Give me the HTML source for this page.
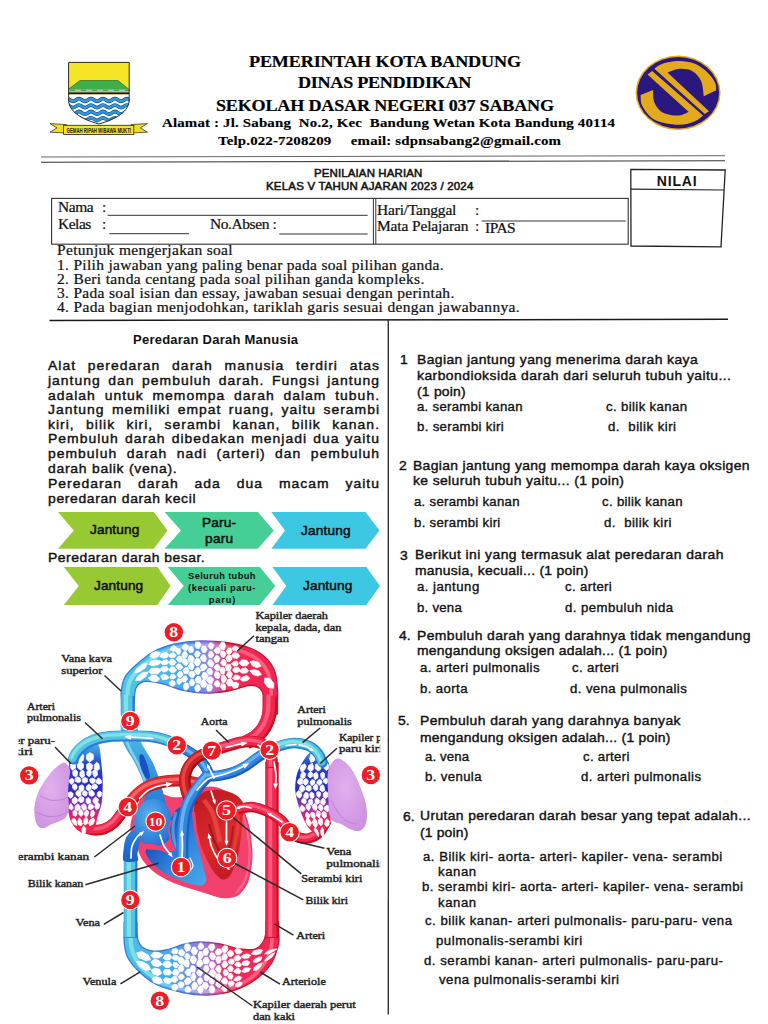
<!DOCTYPE html>
<html><head><meta charset="utf-8"><title>Penilaian Harian</title>
<style>
html,body{margin:0;padding:0;background:#fff;}
body{width:768px;height:1024px;position:relative;overflow:hidden;font-family:'Liberation Sans',sans-serif;}
.t{position:absolute;white-space:pre;line-height:normal;transform-origin:0 0;}
svg{position:absolute;left:0;top:0;}
.h16{font-family:'Liberation Serif',serif;font-size:16px;font-weight:700;color:#000;-webkit-text-stroke:0.2px #000;}.h13{font-family:'Liberation Serif',serif;font-size:13.3px;font-weight:700;color:#000;-webkit-text-stroke:0.15px #000;}.ttl{font-family:'Liberation Sans',serif;font-size:10.6px;font-weight:400;color:#111;-webkit-text-stroke:0.5px #111;}.nil{font-family:'Liberation Sans',serif;font-size:14px;font-weight:700;color:#111;}.ser{font-family:'Liberation Serif',serif;font-size:13.7px;font-weight:400;color:#111;-webkit-text-stroke:0.22px #111;}.h2{font-family:'Liberation Sans',serif;font-size:12.5px;font-weight:700;color:#111;}.body{font-family:'Liberation Sans',serif;font-size:13px;font-weight:400;color:#111;-webkit-text-stroke:0.4px #111;}.q{font-family:'Liberation Sans',serif;font-size:13px;font-weight:400;color:#111;-webkit-text-stroke:0.4px #111;}.opt{font-family:'Liberation Sans',serif;font-size:12.3px;font-weight:400;color:#111;-webkit-text-stroke:0.35px #111;}.chv{font-family:'Liberation Sans',serif;font-size:13px;font-weight:400;color:#111;-webkit-text-stroke:0.5px #111;}.chs{font-family:'Liberation Sans',serif;font-size:9.3px;font-weight:700;color:#111;}
</style></head><body>
<svg width="768" height="1024" viewBox="0 0 768 1024">
<!-- header rules -->
<g stroke="#333" fill="none" stroke-linecap="butt">
<line x1="41" y1="157" x2="725" y2="155.7" stroke-width="0.9" stroke="#555"/>
<line x1="41" y1="162.2" x2="725" y2="160.7" stroke-width="1.1"/>
<!-- info table -->
<rect x="51.6" y="198.4" width="576.6" height="45.8" stroke-width="1.1"/>
<line x1="373.4" y1="198.4" x2="373.4" y2="244.2" stroke-width="1"/>
<line x1="375.8" y1="198.4" x2="375.8" y2="244.2" stroke-width="1"/>
<line x1="107.7" y1="215.3" x2="367.7" y2="215.3" stroke-width="1"/>
<line x1="109.3" y1="233.7" x2="189" y2="233.7" stroke-width="1"/>
<line x1="279.3" y1="234" x2="367.7" y2="234" stroke-width="1"/>
<line x1="481.7" y1="221" x2="625.7" y2="221" stroke-width="1"/>
<!-- NILAI box -->
<path d="M630.8 169.4 L725.2 170 L721 246.8 L631 246 Z" stroke-width="1.3" stroke="#222"/>
<path d="M631 189.2 L724 190" stroke-width="1.2" stroke="#222"/>
<!-- section rules -->
<line x1="49.5" y1="320.4" x2="728" y2="319.3" stroke-width="1.5" stroke="#1a1a1a"/>
<line x1="388.3" y1="320" x2="388.3" y2="1014.5" stroke-width="1.4" stroke="#333"/>
</g>

<!-- left logo: Bandung coat of arms -->
<g>
<defs><clipPath id="sh"><path d="M68.6 62.4 H129.2 V100 C129.2 111 117 119 98.8 124 C80.5 119 68.6 111 68.6 100 Z"/></clipPath></defs>
<path d="M68.6 62.4 H129.2 V100 C129.2 111 117 119 98.8 124 C80.5 119 68.6 111 68.6 100 Z" fill="#f5e526"/>
<g clip-path="url(#sh)">
<path d="M66 91 L80 80.5 H118 L131 91 Z" fill="#3fae49" stroke="#1f5a2a" stroke-width="0.6"/>
<rect x="66" y="89.4" width="66" height="3.2" fill="#b8b8b8"/>
<path d="M70 89.4 h5 v1.7 h-5z M81 89.4 h5 v1.7 h-5z M92 89.4 h5 v1.7 h-5z M103 89.4 h5 v1.7 h-5z M114 89.4 h5 v1.7 h-5z M125 89.4 h5 v1.7 h-5z" fill="#3fae49"/>
<rect x="66" y="92.4" width="66" height="2.1" fill="#1a1a1a"/>
<rect x="66" y="94.5" width="66" height="32" fill="#fff"/>
<g fill="none" stroke="#1e3f66" stroke-width="3.7"><path d="M64 100 q3 -2.6 6 0 t6 0 t6 0 t6 0 t6 0 t6 0 t6 0 t6 0 t6 0 t6 0 t6 0 t6 0"/><path d="M64 106.4 q3 -2.6 6 0 t6 0 t6 0 t6 0 t6 0 t6 0 t6 0 t6 0 t6 0 t6 0 t6 0 t6 0"/><path d="M64 112.8 q3 -2.6 6 0 t6 0 t6 0 t6 0 t6 0 t6 0 t6 0 t6 0 t6 0 t6 0 t6 0 t6 0"/><path d="M64 119.2 q3 -2.6 6 0 t6 0 t6 0 t6 0 t6 0 t6 0 t6 0 t6 0 t6 0 t6 0 t6 0 t6 0"/></g>
<g fill="none" stroke="#2c9be6" stroke-width="2.5"><path d="M64 100 q3 -2.6 6 0 t6 0 t6 0 t6 0 t6 0 t6 0 t6 0 t6 0 t6 0 t6 0 t6 0 t6 0"/><path d="M64 106.4 q3 -2.6 6 0 t6 0 t6 0 t6 0 t6 0 t6 0 t6 0 t6 0 t6 0 t6 0 t6 0 t6 0"/><path d="M64 112.8 q3 -2.6 6 0 t6 0 t6 0 t6 0 t6 0 t6 0 t6 0 t6 0 t6 0 t6 0 t6 0 t6 0"/><path d="M64 119.2 q3 -2.6 6 0 t6 0 t6 0 t6 0 t6 0 t6 0 t6 0 t6 0 t6 0 t6 0 t6 0 t6 0"/></g>
</g>
<path d="M68.6 62.4 H129.2 V100 C129.2 111 117 119 98.8 124 C80.5 119 68.6 111 68.6 100 Z" fill="none" stroke="#2a2a2a" stroke-width="1"/>
<!-- ribbon -->
<path d="M50 123.6 L66.5 124.6 L66.5 133 L50 132.2 L57 127.9 Z" fill="#f0de1e" stroke="#222" stroke-width="0.7"/>
<path d="M147.4 123.6 L131 124.6 L131 133 L147.4 132.2 L140.4 127.9 Z" fill="#f0de1e" stroke="#222" stroke-width="0.7"/>
<rect x="63.6" y="125.3" width="70.2" height="9.2" fill="#f5e526" stroke="#222" stroke-width="0.8"/>
<text x="98.8" y="132.8" font-family="Liberation Sans, sans-serif" font-size="6.8" font-weight="700" text-anchor="middle" textLength="64.5" lengthAdjust="spacingAndGlyphs" fill="#1a1a1a">GEMAH RIPAH WIBAWA MUKTI</text>
</g>

<!-- right logo -->
<g>
<ellipse cx="678.1" cy="92.8" rx="42.5" ry="37.2" fill="#e3ab1c"/>
<ellipse cx="678.1" cy="92.8" rx="41" ry="35.7" fill="#2a1780"/>
<path d="M654.4 68.8 C655.7 67.9 658.4 65.0 662.5 63.8 C666.6 62.5 673.3 61.0 678.8 61.0 C684.2 61.0 690.2 61.8 695.0 63.8 C699.8 65.7 704.2 69.4 707.5 72.5 C710.8 75.6 713.5 79.5 715.0 82.5 C716.5 85.5 716.0 89.0 716.2 90.2 L703.8 96.2 C703.3 93.8 703.1 85.4 701.2 81.2 C699.4 77.1 696.0 73.3 692.5 71.2 C689.0 69.2 684.2 68.5 680.0 68.8 C675.8 69.0 669.6 71.9 667.5 72.5 L709.0 111.2 L704.8 114.0Z" fill="#e3ab1c"/>
<path d="M647.5 74.4 L652.2 71.0 L703.1 115.6 C701.8 116.6 699.2 119.7 695.0 121.2 C690.8 122.8 684.8 125.0 678.1 124.8 C671.5 124.5 660.9 123.1 655.0 120.0 C649.1 116.9 644.9 110.4 642.5 106.2 C640.1 102.1 640.9 96.9 640.6 95.0 L653.1 90.0 C653.3 92.1 652.8 98.8 654.4 102.5 C655.9 106.2 658.6 110.3 662.5 112.5 C666.4 114.7 673.1 115.7 677.5 115.6 C681.9 115.5 686.9 112.5 688.8 111.9Z" fill="#e3ab1c"/>
</g>

<!-- chevrons row 1 -->
<g>
<path d="M58 512 H153.8 L167.5 530.4 L153.8 548.8 H58 L73.8 530.4 Z" fill="#97c932"/>
<path d="M164.6 512 H257.9 L273.8 530.4 L257.9 548.8 H164.6 L181 530.4 Z" fill="#45cf96"/>
<path d="M271.3 512 H365.5 L379.5 530.4 L365.5 548.8 H271.3 L285 530.4 Z" fill="#3cc8e3"/>
<!-- row 2 -->
<path d="M63.8 567 H157.5 L170.5 586 L157.5 605 H63.8 L78.8 586 Z" fill="#97c932"/>
<path d="M167.8 567 H259.8 L275.3 586 L259.8 605 H167.8 L183.8 586 Z" fill="#45cf96"/>
<path d="M272.5 567 H366.3 L380 586 L366.3 605 H272.5 L286.3 586 Z" fill="#3cc8e3"/>
</g>
</svg>

<svg width="768" height="1024" viewBox="0 0 768 1024">
<defs>
<linearGradient id="gTop" gradientUnits="userSpaceOnUse" x1="128" y1="0" x2="276" y2="0">
<stop offset="0" stop-color="#50c4e2"/><stop offset="0.3" stop-color="#4cb4e4"/><stop offset="0.45" stop-color="#4a96e6"/><stop offset="0.56" stop-color="#a27fe0"/><stop offset="0.66" stop-color="#f22a5c"/><stop offset="1" stop-color="#f22450"/></linearGradient>
<linearGradient id="gBot" gradientUnits="userSpaceOnUse" x1="124" y1="0" x2="279" y2="0">
<stop offset="0" stop-color="#4fc3e3"/><stop offset="0.32" stop-color="#4aa6e6"/><stop offset="0.52" stop-color="#9a78dc"/><stop offset="0.68" stop-color="#f22a5c"/><stop offset="1" stop-color="#f22450"/></linearGradient>
<linearGradient id="gTopE" gradientUnits="userSpaceOnUse" x1="124" y1="0" x2="279" y2="0">
<stop offset="0" stop-color="#2c7cd8"/><stop offset="0.36" stop-color="#3a78d8"/><stop offset="0.53" stop-color="#7a58c8"/><stop offset="0.66" stop-color="#c6121e"/><stop offset="1" stop-color="#c8183a"/></linearGradient>
<linearGradient id="gHi" gradientUnits="userSpaceOnUse" x1="124" y1="0" x2="279" y2="0">
<stop offset="0" stop-color="#86e4e4"/><stop offset="0.36" stop-color="#8fc8f4"/><stop offset="0.53" stop-color="#c8a8f0"/><stop offset="0.66" stop-color="#f9607c"/><stop offset="1" stop-color="#f9788c"/></linearGradient>
<linearGradient id="gLung" gradientUnits="userSpaceOnUse" x1="0" y1="742" x2="0" y2="838">
<stop offset="0" stop-color="#45b4e2"/><stop offset="0.1" stop-color="#3a8fdc"/><stop offset="0.24" stop-color="#2540c8"/><stop offset="0.5" stop-color="#2a2ec0"/><stop offset="0.68" stop-color="#a030b0"/><stop offset="0.82" stop-color="#f22450"/><stop offset="1" stop-color="#f22450"/></linearGradient>
<linearGradient id="gVcs" gradientUnits="userSpaceOnUse" x1="0" y1="724" x2="0" y2="815">
<stop offset="0" stop-color="#4fc3e3"/><stop offset="0.45" stop-color="#3a9be0"/><stop offset="1" stop-color="#2474d4"/></linearGradient>
<linearGradient id="gIvc" gradientUnits="userSpaceOnUse" x1="0" y1="825" x2="0" y2="862">
<stop offset="0" stop-color="#2f86dc"/><stop offset="1" stop-color="#1c5fc4"/></linearGradient>
<radialGradient id="gLungL" cx="0.45" cy="0.4" r="0.7"><stop offset="0" stop-color="#e2b0ee"/><stop offset="1" stop-color="#cd90e0"/></radialGradient>
<radialGradient id="gAtr" cx="0.4" cy="0.35" r="0.8"><stop offset="0" stop-color="#55b4ee"/><stop offset="1" stop-color="#1f62cc"/></radialGradient>
<linearGradient id="gRv" gradientUnits="userSpaceOnUse" x1="145" y1="840" x2="205" y2="885">
<stop offset="0" stop-color="#1a46b8"/><stop offset="0.5" stop-color="#2f86dc"/><stop offset="1" stop-color="#4aa8ea"/></linearGradient>
<linearGradient id="gLv" gradientUnits="userSpaceOnUse" x1="195" y1="800" x2="245" y2="880">
<stop offset="0" stop-color="#c01a22"/><stop offset="0.5" stop-color="#dc2a2c"/><stop offset="1" stop-color="#b81820"/></linearGradient>
</defs>
<g>
<path d="M121.4 714.0 C121.4 712.0 121.4 706.0 121.4 702.0 C121.4 698.0 120.8 694.2 121.4 690.0 C122.0 685.8 122.6 681.2 125.0 677.0 C127.4 672.8 131.3 669.2 136.0 665.0 C140.7 660.8 146.5 655.5 153.0 652.0 C159.5 648.5 167.2 645.8 175.0 644.0 C182.8 642.2 191.5 641.2 200.0 641.0 C208.5 640.8 217.7 641.3 226.0 642.5 C234.3 643.7 243.3 645.4 250.0 648.0 C256.7 650.6 261.8 654.0 266.0 658.0 C270.2 662.0 273.1 666.7 275.0 672.0 C276.9 677.3 277.1 685.0 277.5 690.0 C277.9 695.0 277.5 698.0 277.5 702.0 C277.5 706.0 277.5 712.0 277.5 714.0 L263.2 714.0 C263.2 712.0 263.3 705.7 263.2 702.0 C263.1 698.3 263.5 694.6 262.5 692.0 C261.5 689.4 259.4 687.6 257.0 686.5 C254.6 685.4 252.8 684.8 248.0 685.5 C243.2 686.2 235.3 689.8 228.0 691.0 C220.7 692.2 211.7 693.2 204.0 693.0 C196.3 692.8 189.0 691.6 182.0 690.0 C175.0 688.4 168.3 684.9 162.0 683.5 C155.7 682.1 148.3 680.8 144.0 681.5 C139.7 682.2 137.6 684.6 136.0 688.0 C134.4 691.4 134.5 697.7 134.2 702.0 C133.9 706.3 134.2 712.0 134.2 714.0Z" fill="url(#gTop)" stroke="url(#gTopE)" stroke-width="1.3" stroke-linejoin="round"/>
<path d="M270.6 704.0 C270.7 701.3 271.4 693.2 271.0 688.0 C270.6 682.8 269.9 677.5 268.0 673.0 C266.1 668.5 263.2 664.3 259.5 661.0 C255.8 657.7 251.6 655.3 246.0 653.0 C240.4 650.7 233.7 648.2 226.0 647.0 C218.3 645.8 208.3 645.3 200.0 645.5 C191.7 645.7 183.2 646.4 176.0 648.0 C168.8 649.6 160.2 653.8 157.0 655.0" fill="none" stroke="url(#gHi)" stroke-width="3.6" stroke-opacity="0.8" stroke-linecap="round"/>
<path d="M127.8 704.0 C127.8 701.8 127.1 695.2 127.6 691.0 C128.1 686.8 128.8 682.9 131.0 679.0 C133.2 675.1 136.7 671.3 141.0 667.5 C145.3 663.7 154.3 657.9 157.0 656.0" fill="none" stroke="#86e4e4" stroke-width="4.3" stroke-opacity="0.85" stroke-linecap="round"/>
</g>
<path d="M134.7 672.8 L136.6 668.7 L142.3 664.2 L147.0 663.0 L145.5 667.8 L139.2 672.0Z" fill="#fff" stroke="#fff" stroke-width="0.7" stroke-linejoin="round"/>
<path d="M135.5 680.6 L137.6 676.3 L142.7 672.4 L148.2 672.1 L145.8 676.6 L140.3 680.4Z" fill="#fff" stroke="#fff" stroke-width="0.7" stroke-linejoin="round"/>
<path d="M149.8 656.6 L151.4 653.3 L156.2 651.3 L160.5 652.8 L157.9 656.5 L153.5 658.3Z" fill="#fff" stroke="#fff" stroke-width="0.7" stroke-linejoin="round"/>
<path d="M148.8 664.5 L151.4 661.0 L157.0 660.0 L161.8 661.5 L158.9 664.5 L153.1 666.0Z" fill="#fff" stroke="#fff" stroke-width="0.7" stroke-linejoin="round"/>
<path d="M148.6 671.6 L151.3 668.3 L157.7 668.0 L161.6 670.1 L157.9 673.8 L151.8 674.2Z" fill="#fff" stroke="#fff" stroke-width="0.7" stroke-linejoin="round"/>
<path d="M148.2 677.9 L151.6 675.6 L156.3 675.4 L159.8 678.8 L156.9 681.7 L151.3 681.1Z" fill="#fff" stroke="#fff" stroke-width="0.7" stroke-linejoin="round"/>
<path d="M159.6 656.4 L161.7 653.6 L166.4 652.3 L169.0 654.4 L167.3 657.5 L163.7 658.5Z" fill="#fff" stroke="#fff" stroke-width="0.7" stroke-linejoin="round"/>
<path d="M160.8 663.1 L163.1 660.4 L166.8 659.8 L169.3 662.2 L166.8 664.5 L162.8 664.9Z" fill="#fff" stroke="#fff" stroke-width="0.7" stroke-linejoin="round"/>
<path d="M160.1 668.9 L162.4 666.9 L166.9 666.5 L168.7 669.3 L166.4 671.5 L163.1 672.1Z" fill="#fff" stroke="#fff" stroke-width="0.7" stroke-linejoin="round"/>
<path d="M160.6 676.1 L163.9 674.1 L166.7 675.2 L169.2 677.6 L166.5 679.5 L162.5 679.6Z" fill="#fff" stroke="#fff" stroke-width="0.7" stroke-linejoin="round"/>
<path d="M170.0 649.6 L171.5 646.6 L174.1 645.5 L177.2 648.0 L176.0 650.8 L173.1 651.5Z" fill="#fff" stroke="#fff" stroke-width="0.7" stroke-linejoin="round"/>
<path d="M168.5 655.9 L170.2 653.4 L173.9 652.6 L176.2 655.1 L174.8 657.3 L171.0 657.9Z" fill="#fff" stroke="#fff" stroke-width="0.7" stroke-linejoin="round"/>
<path d="M169.2 662.2 L170.7 659.5 L173.3 659.2 L176.3 662.0 L174.4 664.8 L170.6 665.3Z" fill="#fff" stroke="#fff" stroke-width="0.7" stroke-linejoin="round"/>
<path d="M168.7 670.0 L171.3 666.8 L174.0 666.9 L176.7 670.2 L173.7 672.7 L171.3 672.5Z" fill="#fff" stroke="#fff" stroke-width="0.7" stroke-linejoin="round"/>
<path d="M169.9 676.2 L171.5 674.3 L174.3 674.7 L176.2 676.9 L173.4 678.9 L170.5 678.7Z" fill="#fff" stroke="#fff" stroke-width="0.7" stroke-linejoin="round"/>
<path d="M169.1 682.5 L171.8 680.5 L174.4 681.3 L175.6 684.3 L173.2 686.2 L170.2 685.6Z" fill="#fff" stroke="#fff" stroke-width="0.7" stroke-linejoin="round"/>
<path d="M175.8 651.6 L176.8 648.6 L179.8 648.6 L181.0 651.4 L179.7 654.2 L177.6 654.5Z" fill="#fff" stroke="#fff" stroke-width="0.7" stroke-linejoin="round"/>
<path d="M176.3 658.9 L178.1 656.2 L181.0 656.1 L182.8 659.4 L181.1 662.3 L178.4 661.8Z" fill="#fff" stroke="#fff" stroke-width="0.7" stroke-linejoin="round"/>
<path d="M175.8 666.4 L177.8 663.7 L180.7 664.3 L183.0 667.5 L180.3 669.9 L178.0 669.2Z" fill="#fff" stroke="#fff" stroke-width="0.7" stroke-linejoin="round"/>
<path d="M177.0 674.0 L179.7 671.4 L181.5 671.3 L183.1 674.8 L180.6 677.7 L178.5 677.2Z" fill="#fff" stroke="#fff" stroke-width="0.7" stroke-linejoin="round"/>
<path d="M176.8 680.8 L178.3 678.6 L181.6 679.4 L181.9 681.9 L179.5 684.7 L177.4 683.6Z" fill="#fff" stroke="#fff" stroke-width="0.7" stroke-linejoin="round"/>
<path d="M181.8 647.9 L183.8 644.5 L186.1 643.8 L188.9 646.8 L186.8 650.4 L184.4 650.6Z" fill="#fff" stroke="#fff" stroke-width="0.7" stroke-linejoin="round"/>
<path d="M181.9 655.1 L183.4 652.1 L185.7 651.3 L187.8 654.7 L185.9 658.2 L183.2 658.4Z" fill="#fff" stroke="#fff" stroke-width="0.7" stroke-linejoin="round"/>
<path d="M182.0 662.2 L183.6 659.0 L186.4 659.0 L188.7 662.4 L186.4 665.4 L184.3 665.1Z" fill="#fff" stroke="#fff" stroke-width="0.7" stroke-linejoin="round"/>
<path d="M182.9 670.4 L185.1 667.5 L187.5 667.4 L189.5 670.7 L187.4 673.8 L184.2 673.5Z" fill="#fff" stroke="#fff" stroke-width="0.7" stroke-linejoin="round"/>
<path d="M181.3 678.8 L184.1 676.0 L186.2 675.8 L187.6 679.0 L185.6 681.8 L183.0 682.0Z" fill="#fff" stroke="#fff" stroke-width="0.7" stroke-linejoin="round"/>
<path d="M183.3 686.1 L185.0 682.8 L188.1 683.3 L189.1 686.9 L186.9 689.9 L184.3 689.7Z" fill="#fff" stroke="#fff" stroke-width="0.7" stroke-linejoin="round"/>
<path d="M188.0 649.9 L189.6 646.8 L192.3 646.7 L193.8 649.3 L193.1 652.3 L190.1 652.9Z" fill="#fff" stroke="#fff" stroke-width="0.7" stroke-linejoin="round"/>
<path d="M187.9 659.2 L189.0 655.5 L192.3 655.7 L194.6 659.0 L192.7 662.5 L189.8 662.4Z" fill="#fff" stroke="#fff" stroke-width="0.7" stroke-linejoin="round"/>
<path d="M187.9 666.3 L190.1 663.0 L192.8 663.1 L194.2 665.7 L192.9 669.5 L190.0 669.3Z" fill="#fff" stroke="#fff" stroke-width="0.7" stroke-linejoin="round"/>
<path d="M188.4 674.0 L191.0 671.0 L193.9 671.7 L195.3 674.4 L193.3 677.7 L190.7 677.5Z" fill="#fff" stroke="#fff" stroke-width="0.7" stroke-linejoin="round"/>
<path d="M189.4 682.2 L191.1 679.0 L193.2 679.4 L195.1 683.0 L193.3 685.7 L190.4 685.6Z" fill="#fff" stroke="#fff" stroke-width="0.7" stroke-linejoin="round"/>
<path d="M195.2 645.6 L195.7 642.0 L199.5 642.1 L201.1 644.6 L199.3 648.5 L196.4 648.4Z" fill="#fff" stroke="#fff" stroke-width="0.7" stroke-linejoin="round"/>
<path d="M194.4 654.2 L196.1 651.1 L198.4 651.1 L200.6 653.5 L198.4 657.1 L195.9 657.1Z" fill="#fff" stroke="#fff" stroke-width="0.7" stroke-linejoin="round"/>
<path d="M193.8 662.5 L196.3 658.3 L199.1 658.8 L200.8 662.1 L198.6 665.8 L196.5 666.0Z" fill="#fff" stroke="#fff" stroke-width="0.7" stroke-linejoin="round"/>
<path d="M194.3 671.0 L196.2 668.1 L198.9 667.6 L200.8 670.7 L198.8 674.4 L196.7 674.2Z" fill="#fff" stroke="#fff" stroke-width="0.7" stroke-linejoin="round"/>
<path d="M195.2 679.3 L197.3 676.4 L200.3 676.8 L201.3 679.8 L199.9 683.2 L196.4 683.1Z" fill="#fff" stroke="#fff" stroke-width="0.7" stroke-linejoin="round"/>
<path d="M194.5 687.7 L196.6 684.7 L199.2 684.9 L200.6 688.9 L198.8 691.4 L196.1 691.7Z" fill="#fff" stroke="#fff" stroke-width="0.7" stroke-linejoin="round"/>
<path d="M201.0 648.9 L202.6 646.0 L205.7 646.6 L207.3 649.5 L205.2 652.7 L202.5 652.4Z" fill="#fff" stroke="#fff" stroke-width="0.7" stroke-linejoin="round"/>
<path d="M200.1 658.1 L202.5 654.7 L204.8 654.9 L206.6 658.4 L205.2 661.8 L202.1 661.0Z" fill="#fff" stroke="#fff" stroke-width="0.7" stroke-linejoin="round"/>
<path d="M200.2 666.8 L201.9 664.2 L205.4 664.3 L207.2 667.4 L204.2 670.6 L201.7 670.9Z" fill="#fff" stroke="#fff" stroke-width="0.7" stroke-linejoin="round"/>
<path d="M201.7 676.0 L203.1 672.5 L206.2 672.7 L208.3 675.9 L206.0 679.5 L203.6 679.8Z" fill="#fff" stroke="#fff" stroke-width="0.7" stroke-linejoin="round"/>
<path d="M200.2 683.5 L202.4 679.9 L204.8 680.3 L207.1 684.1 L205.1 687.4 L201.6 687.1Z" fill="#fff" stroke="#fff" stroke-width="0.7" stroke-linejoin="round"/>
<path d="M208.2 646.1 L209.9 642.8 L212.9 643.4 L213.9 645.8 L212.3 649.1 L209.9 648.9Z" fill="#fff" stroke="#fff" stroke-width="0.7" stroke-linejoin="round"/>
<path d="M208.3 654.4 L209.9 651.2 L212.1 651.6 L213.8 655.0 L212.2 657.6 L209.1 657.7Z" fill="#fff" stroke="#fff" stroke-width="0.7" stroke-linejoin="round"/>
<path d="M207.4 663.7 L209.0 659.6 L211.5 659.9 L214.1 663.6 L212.3 667.1 L209.8 666.5Z" fill="#fff" stroke="#fff" stroke-width="0.7" stroke-linejoin="round"/>
<path d="M206.8 671.8 L208.1 668.6 L210.8 668.3 L212.8 671.6 L211.8 674.5 L208.9 674.7Z" fill="#fff" stroke="#fff" stroke-width="0.7" stroke-linejoin="round"/>
<path d="M206.4 680.3 L208.4 677.2 L211.1 676.6 L213.8 679.6 L211.7 683.7 L209.1 683.2Z" fill="#fff" stroke="#fff" stroke-width="0.7" stroke-linejoin="round"/>
<path d="M206.5 688.2 L207.6 684.4 L211.3 684.4 L212.6 687.7 L211.0 690.7 L207.8 691.3Z" fill="#fff" stroke="#fff" stroke-width="0.7" stroke-linejoin="round"/>
<path d="M213.7 650.3 L216.4 647.8 L218.8 647.3 L220.6 650.6 L219.2 653.3 L216.1 653.6Z" fill="#fff" stroke="#fff" stroke-width="0.7" stroke-linejoin="round"/>
<path d="M213.8 658.8 L216.1 655.4 L218.3 655.9 L220.1 658.6 L218.0 662.2 L215.5 662.5Z" fill="#fff" stroke="#fff" stroke-width="0.7" stroke-linejoin="round"/>
<path d="M213.8 667.6 L216.1 664.5 L218.3 664.4 L220.4 667.6 L218.9 670.8 L216.1 670.3Z" fill="#fff" stroke="#fff" stroke-width="0.7" stroke-linejoin="round"/>
<path d="M214.3 674.9 L215.4 671.6 L218.1 672.1 L220.4 674.8 L218.6 678.6 L215.9 678.1Z" fill="#fff" stroke="#fff" stroke-width="0.7" stroke-linejoin="round"/>
<path d="M213.8 684.3 L215.8 681.1 L217.9 680.5 L220.0 683.4 L219.3 686.8 L216.3 686.8Z" fill="#fff" stroke="#fff" stroke-width="0.7" stroke-linejoin="round"/>
<path d="M219.0 646.0 L221.5 642.3 L224.2 642.3 L225.6 646.1 L224.1 649.9 L220.8 649.2Z" fill="#fff" stroke="#fff" stroke-width="0.7" stroke-linejoin="round"/>
<path d="M220.4 654.2 L221.3 650.8 L224.4 651.2 L226.3 654.0 L224.0 657.5 L221.6 657.1Z" fill="#fff" stroke="#fff" stroke-width="0.7" stroke-linejoin="round"/>
<path d="M220.4 662.8 L222.8 659.3 L224.7 659.6 L226.4 662.2 L225.4 665.7 L222.5 665.6Z" fill="#fff" stroke="#fff" stroke-width="0.7" stroke-linejoin="round"/>
<path d="M220.0 671.0 L220.9 667.4 L223.8 667.2 L225.2 670.3 L224.1 674.2 L221.1 673.9Z" fill="#fff" stroke="#fff" stroke-width="0.7" stroke-linejoin="round"/>
<path d="M221.2 678.9 L221.7 675.6 L224.7 675.5 L226.7 678.9 L224.7 682.6 L222.1 682.4Z" fill="#fff" stroke="#fff" stroke-width="0.7" stroke-linejoin="round"/>
<path d="M220.4 687.1 L221.4 683.7 L224.8 684.0 L225.8 686.8 L225.2 689.7 L222.6 689.9Z" fill="#fff" stroke="#fff" stroke-width="0.7" stroke-linejoin="round"/>
<path d="M226.2 650.8 L228.4 648.0 L230.9 648.0 L232.2 651.7 L229.6 654.7 L227.6 654.1Z" fill="#fff" stroke="#fff" stroke-width="0.7" stroke-linejoin="round"/>
<path d="M225.6 658.2 L227.9 655.0 L230.7 655.3 L232.1 659.0 L230.1 661.4 L227.4 661.4Z" fill="#fff" stroke="#fff" stroke-width="0.7" stroke-linejoin="round"/>
<path d="M225.3 667.1 L227.4 664.1 L230.4 664.4 L231.3 667.6 L230.3 670.4 L226.6 670.9Z" fill="#fff" stroke="#fff" stroke-width="0.7" stroke-linejoin="round"/>
<path d="M226.5 675.2 L227.7 671.7 L230.9 671.5 L232.4 674.1 L231.1 677.8 L228.7 677.9Z" fill="#fff" stroke="#fff" stroke-width="0.7" stroke-linejoin="round"/>
<path d="M226.3 683.1 L227.7 679.4 L230.8 678.6 L233.2 681.9 L231.3 685.6 L228.4 686.2Z" fill="#fff" stroke="#fff" stroke-width="0.7" stroke-linejoin="round"/>
<path d="M232.3 647.8 L234.9 645.9 L237.9 647.1 L239.4 649.6 L236.8 651.1 L233.1 650.5Z" fill="#fff" stroke="#fff" stroke-width="0.7" stroke-linejoin="round"/>
<path d="M231.5 655.5 L233.8 652.7 L237.7 653.2 L239.7 656.0 L237.4 658.5 L233.4 658.1Z" fill="#fff" stroke="#fff" stroke-width="0.7" stroke-linejoin="round"/>
<path d="M231.2 663.7 L234.1 661.4 L236.9 661.0 L238.4 663.8 L236.9 666.0 L233.8 666.0Z" fill="#fff" stroke="#fff" stroke-width="0.7" stroke-linejoin="round"/>
<path d="M232.4 670.3 L234.1 667.6 L238.3 667.2 L240.4 670.3 L237.9 672.2 L234.8 672.7Z" fill="#fff" stroke="#fff" stroke-width="0.7" stroke-linejoin="round"/>
<path d="M232.4 678.3 L234.8 675.3 L237.3 675.0 L240.4 676.8 L238.8 679.6 L234.9 679.9Z" fill="#fff" stroke="#fff" stroke-width="0.7" stroke-linejoin="round"/>
<path d="M231.7 685.9 L232.5 682.8 L236.2 682.1 L238.9 683.9 L237.7 687.6 L233.8 688.4Z" fill="#fff" stroke="#fff" stroke-width="0.7" stroke-linejoin="round"/>
<path d="M238.9 663.1 L241.7 659.8 L246.7 660.3 L249.1 663.2 L246.7 665.8 L242.1 665.9Z" fill="#fff" stroke="#fff" stroke-width="0.7" stroke-linejoin="round"/>
<path d="M239.4 671.3 L241.7 668.8 L245.8 667.8 L248.6 670.9 L246.4 673.0 L241.9 673.2Z" fill="#fff" stroke="#fff" stroke-width="0.7" stroke-linejoin="round"/>
<path d="M240.1 679.4 L242.6 676.9 L246.8 675.6 L249.9 678.2 L247.7 680.4 L242.7 681.3Z" fill="#fff" stroke="#fff" stroke-width="0.7" stroke-linejoin="round"/>
<path d="M250.1 661.6 L253.8 660.7 L258.8 662.5 L261.0 666.3 L256.7 667.7 L252.3 665.8Z" fill="#fff" stroke="#fff" stroke-width="0.7" stroke-linejoin="round"/>
<path d="M249.8 670.7 L254.1 669.5 L259.0 671.1 L261.5 674.5 L257.9 676.1 L252.8 674.5Z" fill="#fff" stroke="#fff" stroke-width="0.7" stroke-linejoin="round"/>
<path d="M264.7 677.9 L269.5 678.3 L273.8 683.1 L273.7 688.3 L267.8 687.4 L264.4 682.7Z" fill="#fff" stroke="#fff" stroke-width="0.7" stroke-linejoin="round"/>
<path d="M127.8 724.0 C127.8 719.3 127.8 700.7 127.8 696.0" fill="none" stroke="#2c7cd8" stroke-width="13.6" stroke-linecap="butt" stroke-linejoin="round"/>
<path d="M127.8 724.0 C127.8 719.3 127.8 700.7 127.8 696.0" fill="none" stroke="#50c4e2" stroke-width="11.0" stroke-linecap="butt" stroke-linejoin="round" transform="translate(-0.9 -0.7)"/>
<path d="M127.8 724.0 C127.8 719.3 127.8 700.7 127.8 696.0" fill="none" stroke="#86e4e4" stroke-width="4.1" stroke-linecap="butt" stroke-opacity="0.9" stroke-linejoin="round" transform="translate(-1.71 -1.33)"/>
<path d="M270.3 696.0 C270.1 699.0 270.3 708.8 269.4 714.0 C268.4 719.2 266.8 723.2 264.6 727.0 C262.5 730.8 259.6 733.9 256.5 736.5 C253.4 739.1 247.8 741.5 246.0 742.5" fill="none" stroke="#c6121e" stroke-width="14.4" stroke-linecap="butt" stroke-linejoin="round"/>
<path d="M270.3 696.0 C270.1 699.0 270.3 708.8 269.4 714.0 C268.4 719.2 266.8 723.2 264.6 727.0 C262.5 730.8 259.6 733.9 256.5 736.5 C253.4 739.1 247.8 741.5 246.0 742.5" fill="none" stroke="#f22450" stroke-width="11.8" stroke-linecap="butt" stroke-linejoin="round" transform="translate(-0.9 -0.7)"/>
<path d="M270.3 696.0 C270.1 699.0 270.3 708.8 269.4 714.0 C268.4 719.2 266.8 723.2 264.6 727.0 C262.5 730.8 259.6 733.9 256.5 736.5 C253.4 739.1 247.8 741.5 246.0 742.5" fill="none" stroke="#f9607c" stroke-width="4.3" stroke-linecap="butt" stroke-opacity="0.9" stroke-linejoin="round" transform="translate(-1.71 -1.33)"/>
<path d="M124.2 922.0 C124.2 923.7 124.2 928.3 124.2 932.0 C124.2 935.7 123.8 939.7 124.4 944.0 C125.0 948.3 125.4 953.2 128.0 958.0 C130.6 962.8 135.1 968.0 140.0 972.5 C144.9 977.0 150.4 981.7 157.5 985.0 C164.6 988.3 174.2 990.8 182.5 992.5 C190.8 994.2 199.2 995.2 207.5 995.0 C215.8 994.8 224.6 993.5 232.5 991.0 C240.4 988.5 248.6 984.5 255.0 980.0 C261.4 975.5 267.1 970.0 271.0 964.0 C274.9 958.0 277.2 949.3 278.5 944.0 C279.8 938.7 278.6 935.7 278.6 932.0 C278.6 928.3 278.6 923.7 278.6 922.0 L266.0 922.0 C266.0 923.7 266.5 928.7 266.0 932.0 C265.5 935.3 264.8 939.2 263.0 942.0 C261.2 944.8 258.8 947.8 255.0 949.0 C251.2 950.2 245.8 949.8 240.0 949.0 C234.2 948.2 226.7 945.2 220.0 944.0 C213.3 942.8 205.8 942.0 200.0 942.0 C194.2 942.0 190.7 942.7 185.0 944.0 C179.3 945.3 171.5 948.8 166.0 950.0 C160.5 951.2 156.0 951.5 152.0 951.0 C148.0 950.5 144.3 948.8 142.0 947.0 C139.7 945.2 138.8 942.5 138.0 940.0 C137.2 937.5 137.2 935.0 137.0 932.0 C136.8 929.0 137.0 923.7 137.0 922.0Z" fill="url(#gBot)" stroke="url(#gTopE)" stroke-width="1.3" stroke-linejoin="round"/>
<path d="M160.0 982.5 C163.8 983.6 175.1 987.5 183.0 989.0 C190.9 990.5 199.3 991.8 207.5 991.5 C215.7 991.2 224.6 989.9 232.0 987.5 C239.4 985.1 246.6 981.1 252.0 977.0 C257.4 972.9 261.3 967.8 264.5 963.0 C267.7 958.2 269.7 953.5 271.0 948.0 C272.3 942.5 272.2 933.0 272.4 930.0" fill="none" stroke="url(#gHi)" stroke-width="3.6" stroke-opacity="0.8" stroke-linecap="round"/>
<path d="M130.6 930.0 C130.7 932.7 130.3 941.1 131.2 946.0 C132.1 950.9 133.5 955.2 136.0 959.5 C138.5 963.8 142.0 967.8 146.0 971.5 C150.0 975.2 157.7 979.8 160.0 981.5" fill="none" stroke="#86e4e4" stroke-width="4.3" stroke-opacity="0.85" stroke-linecap="round"/>
<path d="M136.6 952.9 L141.7 951.5 L148.3 955.1 L150.6 959.9 L145.3 960.4 L138.6 957.8Z" fill="#fff" stroke="#fff" stroke-width="0.7" stroke-linejoin="round"/>
<path d="M136.3 961.4 L142.0 961.5 L148.5 965.0 L150.7 969.7 L145.4 970.5 L139.1 966.3Z" fill="#fff" stroke="#fff" stroke-width="0.7" stroke-linejoin="round"/>
<path d="M150.5 955.5 L153.7 952.1 L159.2 952.6 L163.1 955.0 L159.0 957.9 L153.7 958.0Z" fill="#fff" stroke="#fff" stroke-width="0.7" stroke-linejoin="round"/>
<path d="M150.8 961.9 L154.8 959.1 L159.1 960.6 L162.1 964.4 L158.1 966.7 L153.2 965.7Z" fill="#fff" stroke="#fff" stroke-width="0.7" stroke-linejoin="round"/>
<path d="M151.2 970.1 L154.8 968.1 L159.7 969.3 L161.7 973.4 L157.8 975.7 L152.8 973.7Z" fill="#fff" stroke="#fff" stroke-width="0.7" stroke-linejoin="round"/>
<path d="M152.3 978.2 L156.3 976.5 L161.0 978.5 L162.5 982.4 L158.5 983.9 L153.4 982.2Z" fill="#fff" stroke="#fff" stroke-width="0.7" stroke-linejoin="round"/>
<path d="M163.0 958.2 L164.9 955.1 L169.4 954.1 L171.9 957.1 L169.6 960.0 L166.3 960.1Z" fill="#fff" stroke="#fff" stroke-width="0.7" stroke-linejoin="round"/>
<path d="M162.3 964.3 L164.9 961.5 L169.4 961.4 L172.0 964.7 L169.3 967.5 L165.5 967.5Z" fill="#fff" stroke="#fff" stroke-width="0.7" stroke-linejoin="round"/>
<path d="M163.1 972.0 L164.9 969.4 L169.6 969.6 L172.0 972.8 L169.5 975.1 L164.7 974.7Z" fill="#fff" stroke="#fff" stroke-width="0.7" stroke-linejoin="round"/>
<path d="M163.3 979.9 L165.6 977.4 L170.2 978.8 L172.1 981.6 L169.1 983.6 L165.4 983.0Z" fill="#fff" stroke="#fff" stroke-width="0.7" stroke-linejoin="round"/>
<path d="M171.4 952.2 L172.5 949.3 L175.9 948.4 L178.3 950.2 L177.1 953.4 L173.8 953.9Z" fill="#fff" stroke="#fff" stroke-width="0.7" stroke-linejoin="round"/>
<path d="M171.9 958.2 L173.5 955.4 L176.2 955.2 L178.9 956.7 L177.6 960.3 L174.5 960.2Z" fill="#fff" stroke="#fff" stroke-width="0.7" stroke-linejoin="round"/>
<path d="M172.8 965.6 L173.6 962.6 L176.3 962.5 L179.0 965.0 L176.7 968.0 L174.5 967.5Z" fill="#fff" stroke="#fff" stroke-width="0.7" stroke-linejoin="round"/>
<path d="M172.4 972.5 L174.4 969.3 L177.5 969.7 L179.4 972.5 L177.5 975.4 L173.6 975.0Z" fill="#fff" stroke="#fff" stroke-width="0.7" stroke-linejoin="round"/>
<path d="M170.6 978.9 L173.2 976.6 L176.5 976.6 L177.8 979.9 L175.3 982.5 L172.8 981.9Z" fill="#fff" stroke="#fff" stroke-width="0.7" stroke-linejoin="round"/>
<path d="M171.8 986.1 L174.1 984.3 L177.3 984.8 L178.4 988.1 L175.4 990.6 L172.1 989.6Z" fill="#fff" stroke="#fff" stroke-width="0.7" stroke-linejoin="round"/>
<path d="M178.4 953.5 L179.7 949.9 L182.3 949.5 L184.9 952.3 L183.5 955.7 L180.7 956.1Z" fill="#fff" stroke="#fff" stroke-width="0.7" stroke-linejoin="round"/>
<path d="M178.0 961.1 L178.9 957.7 L182.2 957.5 L184.5 960.0 L183.1 964.1 L179.9 963.8Z" fill="#fff" stroke="#fff" stroke-width="0.7" stroke-linejoin="round"/>
<path d="M178.2 968.3 L179.9 965.0 L182.4 964.7 L184.1 968.1 L182.6 971.5 L179.5 971.6Z" fill="#fff" stroke="#fff" stroke-width="0.7" stroke-linejoin="round"/>
<path d="M177.9 976.8 L180.6 974.0 L182.6 974.2 L184.5 977.0 L182.2 979.6 L179.8 979.5Z" fill="#fff" stroke="#fff" stroke-width="0.7" stroke-linejoin="round"/>
<path d="M178.1 983.7 L179.7 981.7 L183.2 982.3 L184.5 984.6 L182.2 987.6 L179.8 987.5Z" fill="#fff" stroke="#fff" stroke-width="0.7" stroke-linejoin="round"/>
<path d="M184.3 947.8 L185.2 944.1 L188.6 943.8 L190.9 946.9 L189.6 950.5 L186.2 951.4Z" fill="#fff" stroke="#fff" stroke-width="0.7" stroke-linejoin="round"/>
<path d="M184.5 956.7 L185.9 953.6 L187.7 953.3 L190.3 955.9 L189.2 958.9 L186.6 959.5Z" fill="#fff" stroke="#fff" stroke-width="0.7" stroke-linejoin="round"/>
<path d="M183.1 963.7 L185.3 959.9 L188.3 960.0 L189.4 963.4 L188.4 967.0 L185.7 966.9Z" fill="#fff" stroke="#fff" stroke-width="0.7" stroke-linejoin="round"/>
<path d="M184.8 972.2 L187.0 969.3 L189.9 969.0 L191.1 971.9 L190.1 975.8 L187.0 975.5Z" fill="#fff" stroke="#fff" stroke-width="0.7" stroke-linejoin="round"/>
<path d="M184.3 981.0 L186.9 977.7 L189.6 978.0 L191.5 981.6 L188.9 984.3 L185.9 984.5Z" fill="#fff" stroke="#fff" stroke-width="0.7" stroke-linejoin="round"/>
<path d="M184.8 989.3 L186.9 986.3 L189.2 986.7 L191.4 989.7 L189.4 992.3 L185.6 992.1Z" fill="#fff" stroke="#fff" stroke-width="0.7" stroke-linejoin="round"/>
<path d="M190.8 951.4 L192.7 947.3 L195.1 946.9 L197.8 950.8 L196.0 954.2 L193.6 955.0Z" fill="#fff" stroke="#fff" stroke-width="0.7" stroke-linejoin="round"/>
<path d="M190.0 960.0 L191.7 956.0 L194.2 955.9 L196.8 959.6 L195.1 963.4 L192.0 963.3Z" fill="#fff" stroke="#fff" stroke-width="0.7" stroke-linejoin="round"/>
<path d="M190.1 969.1 L191.2 965.8 L194.1 965.7 L195.5 968.4 L194.9 972.2 L191.6 972.0Z" fill="#fff" stroke="#fff" stroke-width="0.7" stroke-linejoin="round"/>
<path d="M190.6 977.2 L192.6 973.1 L194.3 973.1 L196.1 976.8 L194.2 980.8 L192.3 980.7Z" fill="#fff" stroke="#fff" stroke-width="0.7" stroke-linejoin="round"/>
<path d="M191.6 985.2 L194.0 981.9 L196.2 982.4 L198.0 986.0 L195.6 989.2 L192.7 989.4Z" fill="#fff" stroke="#fff" stroke-width="0.7" stroke-linejoin="round"/>
<path d="M197.8 946.3 L200.1 942.9 L201.7 942.9 L204.0 946.2 L202.6 949.0 L199.1 949.5Z" fill="#fff" stroke="#fff" stroke-width="0.7" stroke-linejoin="round"/>
<path d="M198.1 954.9 L199.4 951.4 L201.8 951.7 L203.4 955.2 L201.6 959.0 L198.7 959.0Z" fill="#fff" stroke="#fff" stroke-width="0.7" stroke-linejoin="round"/>
<path d="M196.6 963.5 L198.4 959.6 L200.9 959.6 L203.2 963.6 L201.0 966.5 L197.7 966.8Z" fill="#fff" stroke="#fff" stroke-width="0.7" stroke-linejoin="round"/>
<path d="M196.5 972.6 L198.9 969.0 L201.8 969.2 L202.8 972.5 L200.8 976.3 L198.3 975.6Z" fill="#fff" stroke="#fff" stroke-width="0.7" stroke-linejoin="round"/>
<path d="M197.2 980.4 L199.1 977.8 L201.4 977.8 L203.0 981.0 L200.9 984.2 L198.8 984.5Z" fill="#fff" stroke="#fff" stroke-width="0.7" stroke-linejoin="round"/>
<path d="M197.2 989.3 L199.5 985.9 L201.9 985.9 L203.6 989.4 L201.2 993.5 L199.1 992.8Z" fill="#fff" stroke="#fff" stroke-width="0.7" stroke-linejoin="round"/>
<path d="M202.7 951.3 L205.3 948.3 L207.4 948.0 L208.6 952.1 L207.1 955.3 L204.1 955.3Z" fill="#fff" stroke="#fff" stroke-width="0.7" stroke-linejoin="round"/>
<path d="M202.9 960.3 L205.3 957.2 L207.7 957.4 L209.5 960.9 L208.1 963.8 L204.4 963.9Z" fill="#fff" stroke="#fff" stroke-width="0.7" stroke-linejoin="round"/>
<path d="M203.5 968.9 L204.6 965.7 L207.8 965.6 L209.2 969.3 L207.3 972.3 L204.8 972.7Z" fill="#fff" stroke="#fff" stroke-width="0.7" stroke-linejoin="round"/>
<path d="M203.9 976.8 L205.9 974.1 L208.4 973.9 L210.1 977.4 L207.6 981.1 L205.0 980.4Z" fill="#fff" stroke="#fff" stroke-width="0.7" stroke-linejoin="round"/>
<path d="M201.8 985.8 L203.9 982.2 L207.2 982.9 L208.7 986.2 L206.3 989.4 L204.1 988.6Z" fill="#fff" stroke="#fff" stroke-width="0.7" stroke-linejoin="round"/>
<path d="M208.2 947.1 L210.2 944.2 L213.8 944.1 L214.9 947.9 L212.5 951.1 L210.5 950.6Z" fill="#fff" stroke="#fff" stroke-width="0.7" stroke-linejoin="round"/>
<path d="M209.6 956.5 L210.8 952.8 L213.6 953.0 L215.9 956.8 L214.0 960.0 L211.1 959.3Z" fill="#fff" stroke="#fff" stroke-width="0.7" stroke-linejoin="round"/>
<path d="M209.0 965.2 L210.7 961.8 L213.4 961.7 L215.7 964.6 L213.5 968.6 L211.3 968.6Z" fill="#fff" stroke="#fff" stroke-width="0.7" stroke-linejoin="round"/>
<path d="M208.8 973.7 L210.7 969.9 L213.7 969.6 L216.4 973.3 L214.0 977.0 L211.3 977.5Z" fill="#fff" stroke="#fff" stroke-width="0.7" stroke-linejoin="round"/>
<path d="M209.0 981.9 L210.3 978.1 L213.1 978.0 L214.8 980.7 L213.3 984.1 L210.8 984.3Z" fill="#fff" stroke="#fff" stroke-width="0.7" stroke-linejoin="round"/>
<path d="M208.9 989.9 L210.2 985.8 L213.0 985.6 L215.1 989.1 L213.8 992.8 L210.7 993.1Z" fill="#fff" stroke="#fff" stroke-width="0.7" stroke-linejoin="round"/>
<path d="M215.3 951.9 L217.2 948.9 L220.3 949.0 L222.3 952.1 L220.1 954.8 L216.4 955.0Z" fill="#fff" stroke="#fff" stroke-width="0.7" stroke-linejoin="round"/>
<path d="M215.7 959.4 L216.9 956.8 L220.2 956.3 L221.4 959.8 L219.9 963.2 L217.3 963.3Z" fill="#fff" stroke="#fff" stroke-width="0.7" stroke-linejoin="round"/>
<path d="M215.4 969.1 L217.4 965.7 L219.6 965.6 L221.3 969.0 L220.2 972.3 L217.7 972.4Z" fill="#fff" stroke="#fff" stroke-width="0.7" stroke-linejoin="round"/>
<path d="M215.0 977.3 L216.7 974.0 L219.5 973.6 L221.8 976.8 L219.9 980.6 L217.5 980.5Z" fill="#fff" stroke="#fff" stroke-width="0.7" stroke-linejoin="round"/>
<path d="M215.6 985.0 L216.4 982.1 L219.3 981.7 L221.9 984.6 L219.8 987.5 L217.9 987.4Z" fill="#fff" stroke="#fff" stroke-width="0.7" stroke-linejoin="round"/>
<path d="M221.6 948.8 L224.1 945.6 L227.3 946.2 L228.0 949.9 L225.4 953.0 L222.9 952.1Z" fill="#fff" stroke="#fff" stroke-width="0.7" stroke-linejoin="round"/>
<path d="M221.8 956.8 L223.6 953.5 L226.5 954.3 L227.5 957.3 L225.9 960.0 L222.4 960.1Z" fill="#fff" stroke="#fff" stroke-width="0.7" stroke-linejoin="round"/>
<path d="M221.8 964.5 L224.0 961.0 L226.2 961.0 L228.1 964.6 L225.7 967.4 L223.2 967.5Z" fill="#fff" stroke="#fff" stroke-width="0.7" stroke-linejoin="round"/>
<path d="M223.1 972.6 L224.6 969.3 L226.8 970.0 L228.7 973.0 L226.6 975.9 L224.4 975.6Z" fill="#fff" stroke="#fff" stroke-width="0.7" stroke-linejoin="round"/>
<path d="M221.3 981.0 L223.5 977.8 L225.6 977.7 L228.0 981.1 L226.6 984.3 L223.1 983.8Z" fill="#fff" stroke="#fff" stroke-width="0.7" stroke-linejoin="round"/>
<path d="M221.1 988.7 L223.2 985.9 L225.3 985.5 L227.3 987.9 L226.6 991.3 L224.0 991.5Z" fill="#fff" stroke="#fff" stroke-width="0.7" stroke-linejoin="round"/>
<path d="M227.0 953.3 L230.0 950.2 L232.6 951.2 L233.8 954.5 L231.2 956.8 L228.8 956.3Z" fill="#fff" stroke="#fff" stroke-width="0.7" stroke-linejoin="round"/>
<path d="M228.1 961.2 L230.0 959.1 L233.1 959.0 L234.5 961.8 L232.8 964.3 L229.5 963.9Z" fill="#fff" stroke="#fff" stroke-width="0.7" stroke-linejoin="round"/>
<path d="M227.5 968.3 L229.6 965.8 L231.7 966.1 L233.3 968.5 L232.4 971.2 L229.3 971.7Z" fill="#fff" stroke="#fff" stroke-width="0.7" stroke-linejoin="round"/>
<path d="M227.6 976.2 L229.3 973.5 L231.4 973.3 L233.2 976.2 L231.7 979.3 L229.2 979.0Z" fill="#fff" stroke="#fff" stroke-width="0.7" stroke-linejoin="round"/>
<path d="M228.0 984.1 L229.1 981.4 L232.1 980.7 L234.5 982.8 L232.9 985.6 L229.9 986.7Z" fill="#fff" stroke="#fff" stroke-width="0.7" stroke-linejoin="round"/>
<path d="M234.5 950.6 L236.4 948.6 L240.0 949.0 L242.3 951.7 L239.5 954.1 L236.5 953.7Z" fill="#fff" stroke="#fff" stroke-width="0.7" stroke-linejoin="round"/>
<path d="M234.0 957.9 L235.7 955.8 L239.2 955.7 L241.2 958.3 L238.9 960.4 L235.1 960.8Z" fill="#fff" stroke="#fff" stroke-width="0.7" stroke-linejoin="round"/>
<path d="M234.5 964.7 L236.4 962.2 L239.5 962.4 L241.5 964.5 L240.2 966.7 L236.7 966.8Z" fill="#fff" stroke="#fff" stroke-width="0.7" stroke-linejoin="round"/>
<path d="M233.5 971.6 L235.8 969.1 L238.4 968.3 L241.2 970.7 L239.6 973.6 L236.6 973.5Z" fill="#fff" stroke="#fff" stroke-width="0.7" stroke-linejoin="round"/>
<path d="M233.6 980.3 L235.4 977.4 L239.0 976.1 L241.9 977.5 L240.0 979.9 L236.9 981.2Z" fill="#fff" stroke="#fff" stroke-width="0.7" stroke-linejoin="round"/>
<path d="M235.4 986.3 L236.0 983.5 L240.0 981.8 L242.3 982.8 L240.7 985.9 L237.7 987.0Z" fill="#fff" stroke="#fff" stroke-width="0.7" stroke-linejoin="round"/>
<path d="M240.9 956.8 L243.5 954.7 L247.5 953.8 L250.9 955.5 L248.2 958.1 L244.3 958.6Z" fill="#fff" stroke="#fff" stroke-width="0.7" stroke-linejoin="round"/>
<path d="M241.7 964.4 L243.0 961.4 L247.3 960.5 L249.9 962.3 L248.1 965.3 L244.1 965.6Z" fill="#fff" stroke="#fff" stroke-width="0.7" stroke-linejoin="round"/>
<path d="M241.8 971.7 L244.1 968.1 L248.1 967.7 L250.6 968.4 L248.9 971.3 L244.8 972.6Z" fill="#fff" stroke="#fff" stroke-width="0.7" stroke-linejoin="round"/>
<path d="M251.3 954.1 L253.5 950.9 L259.4 949.5 L262.6 950.1 L260.7 953.6 L255.8 954.8Z" fill="#fff" stroke="#fff" stroke-width="0.7" stroke-linejoin="round"/>
<path d="M253.1 962.1 L254.4 959.3 L258.8 957.2 L261.9 957.0 L260.8 960.3 L256.8 962.6Z" fill="#fff" stroke="#fff" stroke-width="0.7" stroke-linejoin="round"/>
<path d="M253.2 970.4 L254.3 967.2 L258.3 964.0 L262.4 962.9 L260.5 967.1 L256.8 970.2Z" fill="#fff" stroke="#fff" stroke-width="0.7" stroke-linejoin="round"/>
<path d="M264.5 954.0 L267.2 951.4 L272.9 949.3 L277.2 949.1 L273.4 951.5 L268.2 953.9Z" fill="#fff" stroke="#fff" stroke-width="0.7" stroke-linejoin="round"/>
<path d="M264.7 961.1 L266.8 958.0 L271.4 954.1 L274.7 952.7 L272.7 956.4 L267.6 960.2Z" fill="#fff" stroke="#fff" stroke-width="0.7" stroke-linejoin="round"/>
<path d="M130.6 860.0 C130.6 873.0 130.6 925.0 130.6 938.0" fill="none" stroke="#2c7cd8" stroke-width="13.6" stroke-linecap="butt" stroke-linejoin="round"/>
<path d="M130.6 860.0 C130.6 873.0 130.6 925.0 130.6 938.0" fill="none" stroke="#50c4e2" stroke-width="11.0" stroke-linecap="butt" stroke-linejoin="round" transform="translate(-0.9 -0.7)"/>
<path d="M130.6 860.0 C130.6 873.0 130.6 925.0 130.6 938.0" fill="none" stroke="#86e4e4" stroke-width="4.1" stroke-linecap="butt" stroke-opacity="0.9" stroke-linejoin="round" transform="translate(-1.71 -1.33)"/>
<path d="M82.0 827.0 C83.8 827.5 89.3 829.7 93.0 830.0 C96.7 830.3 100.5 830.2 104.0 829.0 C107.5 827.8 111.0 825.7 114.0 823.0 C117.0 820.3 119.7 815.8 122.0 813.0 C124.3 810.2 127.0 807.2 128.0 806.0" fill="none" stroke="#c6121e" stroke-width="11" stroke-linecap="butt" stroke-linejoin="round"/>
<path d="M82.0 827.0 C83.8 827.5 89.3 829.7 93.0 830.0 C96.7 830.3 100.5 830.2 104.0 829.0 C107.5 827.8 111.0 825.7 114.0 823.0 C117.0 820.3 119.7 815.8 122.0 813.0 C124.3 810.2 127.0 807.2 128.0 806.0" fill="none" stroke="#f22450" stroke-width="8.4" stroke-linecap="butt" stroke-linejoin="round" transform="translate(-0.9 -0.7)"/>
<path d="M82.0 827.0 C83.8 827.5 89.3 829.7 93.0 830.0 C96.7 830.3 100.5 830.2 104.0 829.0 C107.5 827.8 111.0 825.7 114.0 823.0 C117.0 820.3 119.7 815.8 122.0 813.0 C124.3 810.2 127.0 807.2 128.0 806.0" fill="none" stroke="#f9607c" stroke-width="3.3" stroke-linecap="butt" stroke-opacity="0.9" stroke-linejoin="round" transform="translate(-1.71 -1.33)"/>
<path d="M327.0 820.0 C325.7 822.2 322.2 829.9 319.0 833.0 C315.8 836.1 311.7 837.8 308.0 838.5 C304.3 839.2 300.0 838.1 297.0 837.0 C294.0 835.9 291.2 832.8 290.0 832.0" fill="none" stroke="#c6121e" stroke-width="10.4" stroke-linecap="butt" stroke-linejoin="round"/>
<path d="M327.0 820.0 C325.7 822.2 322.2 829.9 319.0 833.0 C315.8 836.1 311.7 837.8 308.0 838.5 C304.3 839.2 300.0 838.1 297.0 837.0 C294.0 835.9 291.2 832.8 290.0 832.0" fill="none" stroke="#f22450" stroke-width="7.8" stroke-linecap="butt" stroke-linejoin="round" transform="translate(-0.9 -0.7)"/>
<path d="M327.0 820.0 C325.7 822.2 322.2 829.9 319.0 833.0 C315.8 836.1 311.7 837.8 308.0 838.5 C304.3 839.2 300.0 838.1 297.0 837.0 C294.0 835.9 291.2 832.8 290.0 832.0" fill="none" stroke="#f9607c" stroke-width="3.1" stroke-linecap="butt" stroke-opacity="0.9" stroke-linejoin="round" transform="translate(-1.71 -1.33)"/>
<path d="M76.0 749.0 C74.0 751.2 71.7 753.5 70.5 757.0 C69.3 760.5 68.8 767.0 68.3 772.0 C67.8 777.0 67.7 785.2 67.5 790.0 C67.3 794.8 66.9 799.5 67.3 804.0 C67.7 808.5 68.8 816.0 70.4 820.0 C72.0 824.0 75.2 828.5 78.0 830.5 C80.8 832.5 86.5 834.0 89.0 833.5 C91.5 833.0 93.7 829.5 95.0 827.0 C96.3 824.5 96.5 820.6 97.5 817.0 C98.5 813.4 100.9 808.2 101.7 803.0 C102.5 797.8 102.7 787.7 102.7 782.0 C102.7 776.3 102.1 770.4 101.5 765.0 C100.9 759.6 100.4 749.9 99.0 746.0 C97.6 742.1 94.2 739.6 92.0 739.0 C89.8 738.4 86.4 740.5 84.0 742.0 C81.6 743.5 78.0 746.8 76.0 749.0Z" fill="url(#gLung)"/>
<path d="M81.3 752.4 L76.9 754.3 L76.2 759.9 L79.4 762.7 L83.2 760.6 L83.9 755.9Z" fill="#fff" stroke="#fff" stroke-width="0.7" stroke-linejoin="round"/>
<path d="M90.0 752.6 L86.9 754.5 L86.3 759.1 L89.7 762.1 L93.3 759.3 L93.3 754.6Z" fill="#fff" stroke="#fff" stroke-width="0.7" stroke-linejoin="round"/>
<path d="M72.6 760.9 L70.5 763.4 L70.2 767.5 L72.3 770.3 L75.5 768.2 L75.8 763.2Z" fill="#fff" stroke="#fff" stroke-width="0.7" stroke-linejoin="round"/>
<path d="M80.3 761.6 L77.3 764.2 L77.6 767.9 L80.7 770.2 L83.4 767.8 L83.5 764.1Z" fill="#fff" stroke="#fff" stroke-width="0.7" stroke-linejoin="round"/>
<path d="M89.5 762.7 L86.5 764.6 L86.7 768.9 L89.8 771.8 L92.3 768.5 L92.6 765.0Z" fill="#fff" stroke="#fff" stroke-width="0.7" stroke-linejoin="round"/>
<path d="M96.8 762.2 L94.4 764.4 L94.2 769.1 L97.2 770.8 L99.8 768.8 L99.0 764.0Z" fill="#fff" stroke="#fff" stroke-width="0.7" stroke-linejoin="round"/>
<path d="M75.6 769.6 L72.7 771.5 L73.0 775.3 L75.5 777.1 L77.3 775.5 L77.5 771.6Z" fill="#fff" stroke="#fff" stroke-width="0.7" stroke-linejoin="round"/>
<path d="M82.5 769.8 L80.0 772.5 L79.8 775.7 L82.1 778.3 L84.4 776.2 L84.2 771.8Z" fill="#fff" stroke="#fff" stroke-width="0.7" stroke-linejoin="round"/>
<path d="M88.8 769.4 L86.9 771.8 L86.8 775.1 L89.2 776.7 L90.8 775.0 L91.5 771.7Z" fill="#fff" stroke="#fff" stroke-width="0.7" stroke-linejoin="round"/>
<path d="M94.7 769.2 L92.6 771.3 L93.1 775.0 L94.8 777.6 L97.5 774.9 L97.3 771.8Z" fill="#fff" stroke="#fff" stroke-width="0.7" stroke-linejoin="round"/>
<path d="M71.9 778.2 L69.4 780.0 L69.4 782.3 L71.4 784.6 L73.7 782.8 L73.9 779.8Z" fill="#fff" stroke="#fff" stroke-width="0.7" stroke-linejoin="round"/>
<path d="M78.1 776.8 L75.2 778.3 L75.1 781.3 L78.4 782.8 L80.8 781.5 L80.7 778.7Z" fill="#fff" stroke="#fff" stroke-width="0.7" stroke-linejoin="round"/>
<path d="M84.8 777.3 L82.3 779.3 L82.5 782.2 L84.5 783.0 L87.5 781.8 L87.3 778.6Z" fill="#fff" stroke="#fff" stroke-width="0.7" stroke-linejoin="round"/>
<path d="M92.4 778.0 L89.8 779.1 L90.0 781.8 L92.5 784.1 L94.9 782.0 L95.4 779.4Z" fill="#fff" stroke="#fff" stroke-width="0.7" stroke-linejoin="round"/>
<path d="M98.4 777.8 L96.4 780.0 L95.8 782.6 L98.9 784.2 L101.6 783.0 L101.2 780.0Z" fill="#fff" stroke="#fff" stroke-width="0.7" stroke-linejoin="round"/>
<path d="M74.9 783.8 L72.5 784.9 L72.5 788.0 L74.7 790.3 L77.0 788.8 L77.0 785.6Z" fill="#fff" stroke="#fff" stroke-width="0.7" stroke-linejoin="round"/>
<path d="M82.0 784.7 L79.1 786.2 L79.1 789.2 L81.1 792.0 L83.7 790.2 L84.0 786.6Z" fill="#fff" stroke="#fff" stroke-width="0.7" stroke-linejoin="round"/>
<path d="M88.7 784.3 L86.6 786.1 L86.1 789.2 L88.9 791.2 L90.8 789.0 L91.5 786.1Z" fill="#fff" stroke="#fff" stroke-width="0.7" stroke-linejoin="round"/>
<path d="M94.9 783.7 L92.2 785.6 L91.9 788.3 L94.5 789.5 L97.4 787.8 L97.2 785.4Z" fill="#fff" stroke="#fff" stroke-width="0.7" stroke-linejoin="round"/>
<path d="M71.1 791.7 L68.1 792.8 L68.2 796.3 L70.7 798.3 L72.9 796.3 L73.0 793.6Z" fill="#fff" stroke="#fff" stroke-width="0.7" stroke-linejoin="round"/>
<path d="M78.5 789.9 L76.1 792.0 L75.8 794.4 L78.6 796.6 L81.0 795.5 L80.8 791.9Z" fill="#fff" stroke="#fff" stroke-width="0.7" stroke-linejoin="round"/>
<path d="M84.9 790.5 L82.9 791.7 L82.4 794.5 L84.9 796.3 L86.8 795.3 L87.3 792.3Z" fill="#fff" stroke="#fff" stroke-width="0.7" stroke-linejoin="round"/>
<path d="M91.8 789.8 L88.9 792.0 L89.1 795.0 L91.7 796.5 L94.4 794.9 L94.0 792.5Z" fill="#fff" stroke="#fff" stroke-width="0.7" stroke-linejoin="round"/>
<path d="M99.8 790.9 L97.5 792.4 L97.2 795.5 L98.9 797.3 L101.1 796.2 L101.9 793.0Z" fill="#fff" stroke="#fff" stroke-width="0.7" stroke-linejoin="round"/>
<path d="M75.0 796.9 L72.2 799.3 L72.3 802.3 L74.3 804.2 L77.3 801.9 L77.3 799.0Z" fill="#fff" stroke="#fff" stroke-width="0.7" stroke-linejoin="round"/>
<path d="M81.4 796.2 L79.0 797.8 L78.4 801.0 L81.0 802.7 L83.4 801.6 L83.9 798.0Z" fill="#fff" stroke="#fff" stroke-width="0.7" stroke-linejoin="round"/>
<path d="M88.2 797.5 L86.2 799.0 L86.0 802.3 L87.7 804.1 L90.6 802.8 L90.7 799.8Z" fill="#fff" stroke="#fff" stroke-width="0.7" stroke-linejoin="round"/>
<path d="M95.6 797.0 L93.5 798.9 L92.8 802.0 L95.0 804.1 L97.5 803.0 L98.5 799.4Z" fill="#fff" stroke="#fff" stroke-width="0.7" stroke-linejoin="round"/>
<path d="M70.7 803.4 L69.0 806.2 L69.1 808.3 L71.5 810.0 L73.2 808.3 L72.6 805.9Z" fill="#fff" stroke="#fff" stroke-width="0.7" stroke-linejoin="round"/>
<path d="M77.6 803.8 L75.0 806.4 L75.2 809.4 L77.9 810.9 L80.1 809.1 L80.2 806.0Z" fill="#fff" stroke="#fff" stroke-width="0.7" stroke-linejoin="round"/>
<path d="M84.1 803.7 L81.5 805.3 L81.9 808.2 L83.7 810.6 L86.3 808.8 L86.0 805.3Z" fill="#fff" stroke="#fff" stroke-width="0.7" stroke-linejoin="round"/>
<path d="M91.0 803.7 L89.0 804.8 L87.9 808.3 L90.2 809.8 L93.1 808.3 L93.6 805.9Z" fill="#fff" stroke="#fff" stroke-width="0.7" stroke-linejoin="round"/>
<path d="M98.0 802.6 L95.4 804.3 L94.7 806.8 L96.3 809.5 L99.0 808.0 L99.8 804.9Z" fill="#fff" stroke="#fff" stroke-width="0.7" stroke-linejoin="round"/>
<path d="M74.6 810.0 L72.9 811.6 L73.1 815.2 L75.7 816.6 L77.0 814.1 L76.9 811.7Z" fill="#fff" stroke="#fff" stroke-width="0.7" stroke-linejoin="round"/>
<path d="M80.8 809.0 L79.0 811.4 L78.7 814.3 L81.2 816.5 L83.3 814.1 L82.8 811.4Z" fill="#fff" stroke="#fff" stroke-width="0.7" stroke-linejoin="round"/>
<path d="M86.6 809.6 L84.7 811.9 L84.3 814.3 L85.8 817.1 L87.9 815.6 L88.7 811.8Z" fill="#fff" stroke="#fff" stroke-width="0.7" stroke-linejoin="round"/>
<path d="M93.3 810.1 L91.2 811.1 L90.5 815.0 L91.5 817.6 L94.0 815.4 L94.6 812.6Z" fill="#fff" stroke="#fff" stroke-width="0.7" stroke-linejoin="round"/>
<path d="M72.7 818.4 L71.8 820.5 L73.5 824.1 L76.7 825.6 L76.9 822.9 L75.3 819.1Z" fill="#fff" stroke="#fff" stroke-width="0.7" stroke-linejoin="round"/>
<path d="M79.3 817.8 L77.8 820.8 L78.1 824.3 L81.0 825.9 L82.4 823.9 L81.0 819.8Z" fill="#fff" stroke="#fff" stroke-width="0.7" stroke-linejoin="round"/>
<path d="M86.4 817.2 L84.0 819.4 L83.7 823.4 L85.1 825.0 L87.4 823.5 L87.9 819.8Z" fill="#fff" stroke="#fff" stroke-width="0.7" stroke-linejoin="round"/>
<path d="M93.4 817.9 L90.4 819.6 L88.5 823.0 L89.9 825.8 L93.1 824.1 L94.6 820.5Z" fill="#fff" stroke="#fff" stroke-width="0.7" stroke-linejoin="round"/>
<path d="M83.8 825.8 L81.9 828.4 L82.1 833.6 L84.0 836.5 L85.3 832.6 L85.8 828.7Z" fill="#fff" stroke="#fff" stroke-width="0.7" stroke-linejoin="round"/>
<path d="M311.0 752.0 C308.7 753.2 306.6 755.9 304.5 759.0 C302.4 762.1 298.7 768.4 297.3 773.0 C295.9 777.6 294.9 784.8 295.2 790.0 C295.5 795.2 297.7 802.8 299.4 808.0 C301.1 813.2 304.2 821.0 306.7 825.0 C309.2 829.0 313.3 833.8 316.0 834.5 C318.7 835.2 322.8 832.0 325.0 830.0 C327.2 828.0 330.1 826.4 330.6 821.0 C331.1 815.6 328.6 802.0 328.5 794.0 C328.4 786.0 329.9 773.2 329.6 768.0 C329.3 762.8 327.9 761.5 326.5 759.0 C325.1 756.5 322.3 752.0 320.0 751.0 C317.7 750.0 313.3 750.8 311.0 752.0Z" fill="url(#gLung)"/>
<path d="M313.8 753.1 L310.8 754.3 L309.5 758.7 L310.9 762.4 L314.5 761.0 L315.8 756.6Z" fill="#fff" stroke="#fff" stroke-width="0.7" stroke-linejoin="round"/>
<path d="M321.0 753.6 L317.5 755.9 L317.5 760.9 L319.7 764.0 L322.5 761.0 L322.8 756.7Z" fill="#fff" stroke="#fff" stroke-width="0.7" stroke-linejoin="round"/>
<path d="M304.9 763.8 L301.4 765.2 L300.0 768.4 L301.3 772.1 L304.1 770.6 L306.3 766.5Z" fill="#fff" stroke="#fff" stroke-width="0.7" stroke-linejoin="round"/>
<path d="M312.4 763.2 L308.8 765.3 L307.7 768.9 L310.3 771.6 L313.2 769.7 L313.4 766.3Z" fill="#fff" stroke="#fff" stroke-width="0.7" stroke-linejoin="round"/>
<path d="M319.2 762.4 L315.6 764.4 L315.0 768.4 L318.0 771.2 L320.7 769.3 L321.4 764.9Z" fill="#fff" stroke="#fff" stroke-width="0.7" stroke-linejoin="round"/>
<path d="M326.0 762.2 L323.1 764.8 L323.7 768.0 L326.2 770.5 L328.6 768.8 L328.3 764.3Z" fill="#fff" stroke="#fff" stroke-width="0.7" stroke-linejoin="round"/>
<path d="M303.5 771.6 L301.1 773.4 L300.5 777.0 L302.6 779.0 L304.8 777.2 L305.8 774.0Z" fill="#fff" stroke="#fff" stroke-width="0.7" stroke-linejoin="round"/>
<path d="M311.0 771.6 L308.3 773.3 L308.1 776.0 L309.9 778.0 L312.6 776.3 L312.8 773.8Z" fill="#fff" stroke="#fff" stroke-width="0.7" stroke-linejoin="round"/>
<path d="M316.4 772.1 L313.6 774.1 L313.8 776.9 L315.2 779.9 L318.0 777.7 L317.9 774.5Z" fill="#fff" stroke="#fff" stroke-width="0.7" stroke-linejoin="round"/>
<path d="M322.9 772.1 L320.6 773.5 L320.9 776.9 L322.2 779.6 L324.4 777.2 L324.6 773.6Z" fill="#fff" stroke="#fff" stroke-width="0.7" stroke-linejoin="round"/>
<path d="M300.5 777.9 L298.1 779.9 L297.5 783.1 L299.8 784.8 L302.5 783.8 L302.9 779.7Z" fill="#fff" stroke="#fff" stroke-width="0.7" stroke-linejoin="round"/>
<path d="M305.7 778.2 L303.7 780.1 L303.3 783.4 L305.5 785.5 L307.8 783.5 L308.3 780.5Z" fill="#fff" stroke="#fff" stroke-width="0.7" stroke-linejoin="round"/>
<path d="M312.3 779.4 L310.4 781.2 L310.2 783.6 L311.8 785.7 L314.3 784.2 L315.1 781.1Z" fill="#fff" stroke="#fff" stroke-width="0.7" stroke-linejoin="round"/>
<path d="M319.7 779.2 L317.3 781.0 L316.6 783.3 L319.4 785.6 L321.8 783.6 L322.1 781.2Z" fill="#fff" stroke="#fff" stroke-width="0.7" stroke-linejoin="round"/>
<path d="M325.8 778.2 L323.6 779.5 L323.3 782.0 L325.8 783.9 L327.5 782.5 L327.7 779.2Z" fill="#fff" stroke="#fff" stroke-width="0.7" stroke-linejoin="round"/>
<path d="M302.3 784.8 L299.8 786.6 L299.3 789.8 L301.8 792.6 L304.8 790.0 L304.8 787.3Z" fill="#fff" stroke="#fff" stroke-width="0.7" stroke-linejoin="round"/>
<path d="M308.6 785.1 L306.2 786.7 L305.9 789.6 L308.9 791.3 L311.2 789.8 L311.0 786.3Z" fill="#fff" stroke="#fff" stroke-width="0.7" stroke-linejoin="round"/>
<path d="M316.0 783.9 L313.3 786.3 L313.2 788.6 L315.6 791.1 L317.8 789.2 L317.8 786.3Z" fill="#fff" stroke="#fff" stroke-width="0.7" stroke-linejoin="round"/>
<path d="M322.8 784.7 L320.3 786.2 L319.9 790.0 L322.3 791.8 L324.7 790.5 L324.3 787.1Z" fill="#fff" stroke="#fff" stroke-width="0.7" stroke-linejoin="round"/>
<path d="M298.4 790.6 L296.1 793.6 L297.2 796.4 L299.7 798.2 L301.7 795.9 L301.1 792.5Z" fill="#fff" stroke="#fff" stroke-width="0.7" stroke-linejoin="round"/>
<path d="M305.9 792.0 L303.8 794.7 L303.8 797.4 L307.1 799.1 L308.7 797.1 L308.1 793.3Z" fill="#fff" stroke="#fff" stroke-width="0.7" stroke-linejoin="round"/>
<path d="M311.2 791.9 L309.6 794.0 L310.6 797.8 L312.3 798.6 L314.1 797.2 L313.8 793.5Z" fill="#fff" stroke="#fff" stroke-width="0.7" stroke-linejoin="round"/>
<path d="M318.2 791.3 L316.6 792.5 L316.8 795.7 L319.1 797.5 L320.6 795.2 L320.7 792.7Z" fill="#fff" stroke="#fff" stroke-width="0.7" stroke-linejoin="round"/>
<path d="M325.7 791.3 L323.2 793.5 L323.3 796.7 L325.4 798.7 L327.8 796.7 L327.9 793.0Z" fill="#fff" stroke="#fff" stroke-width="0.7" stroke-linejoin="round"/>
<path d="M303.4 798.1 L301.6 799.8 L301.7 802.3 L304.8 804.0 L306.4 801.9 L305.6 799.4Z" fill="#fff" stroke="#fff" stroke-width="0.7" stroke-linejoin="round"/>
<path d="M310.0 799.2 L308.5 800.6 L308.8 803.9 L311.5 805.4 L312.8 802.8 L312.3 799.8Z" fill="#fff" stroke="#fff" stroke-width="0.7" stroke-linejoin="round"/>
<path d="M316.6 797.8 L314.9 799.8 L315.4 803.4 L317.6 804.3 L319.4 802.8 L319.3 799.9Z" fill="#fff" stroke="#fff" stroke-width="0.7" stroke-linejoin="round"/>
<path d="M323.0 797.9 L320.8 800.7 L320.7 803.3 L323.8 805.2 L325.4 802.8 L325.0 799.7Z" fill="#fff" stroke="#fff" stroke-width="0.7" stroke-linejoin="round"/>
<path d="M301.8 805.0 L299.8 807.9 L300.9 810.9 L303.3 811.6 L305.3 809.3 L304.1 807.0Z" fill="#fff" stroke="#fff" stroke-width="0.7" stroke-linejoin="round"/>
<path d="M307.3 803.6 L305.9 805.7 L306.7 808.7 L309.0 810.7 L310.5 807.6 L309.6 804.6Z" fill="#fff" stroke="#fff" stroke-width="0.7" stroke-linejoin="round"/>
<path d="M314.0 803.5 L312.1 806.0 L313.3 809.3 L315.7 810.7 L317.3 807.9 L316.3 804.6Z" fill="#fff" stroke="#fff" stroke-width="0.7" stroke-linejoin="round"/>
<path d="M319.9 804.2 L318.3 806.4 L319.1 809.2 L321.2 811.2 L323.1 808.6 L322.3 805.6Z" fill="#fff" stroke="#fff" stroke-width="0.7" stroke-linejoin="round"/>
<path d="M327.0 805.1 L324.4 807.1 L324.6 809.7 L327.7 812.0 L329.4 809.6 L328.9 806.2Z" fill="#fff" stroke="#fff" stroke-width="0.7" stroke-linejoin="round"/>
<path d="M306.7 812.0 L305.5 815.0 L306.1 817.3 L308.8 818.4 L310.1 816.3 L309.0 813.8Z" fill="#fff" stroke="#fff" stroke-width="0.7" stroke-linejoin="round"/>
<path d="M311.8 811.9 L310.3 814.1 L311.9 817.6 L314.4 818.9 L315.3 816.1 L314.5 813.0Z" fill="#fff" stroke="#fff" stroke-width="0.7" stroke-linejoin="round"/>
<path d="M317.2 810.5 L316.5 813.1 L316.5 816.0 L319.3 817.9 L320.3 814.7 L320.2 812.1Z" fill="#fff" stroke="#fff" stroke-width="0.7" stroke-linejoin="round"/>
<path d="M323.3 811.3 L321.7 813.7 L322.4 816.5 L324.8 818.5 L326.4 816.4 L326.0 812.5Z" fill="#fff" stroke="#fff" stroke-width="0.7" stroke-linejoin="round"/>
<path d="M307.0 817.8 L305.9 821.4 L307.4 824.5 L309.8 826.7 L311.5 823.1 L309.6 819.5Z" fill="#fff" stroke="#fff" stroke-width="0.7" stroke-linejoin="round"/>
<path d="M314.3 818.0 L312.4 821.7 L313.2 824.9 L315.7 827.9 L317.5 824.7 L316.7 820.7Z" fill="#fff" stroke="#fff" stroke-width="0.7" stroke-linejoin="round"/>
<path d="M320.4 817.8 L318.6 819.4 L318.5 823.5 L320.7 825.8 L322.6 824.2 L322.4 819.1Z" fill="#fff" stroke="#fff" stroke-width="0.7" stroke-linejoin="round"/>
<path d="M327.5 818.9 L325.5 820.1 L324.6 824.3 L326.5 826.8 L329.0 824.9 L329.3 821.7Z" fill="#fff" stroke="#fff" stroke-width="0.7" stroke-linejoin="round"/>
<path d="M314.8 827.5 L314.1 830.1 L316.7 834.3 L318.5 836.7 L318.5 833.1 L316.8 829.4Z" fill="#fff" stroke="#fff" stroke-width="0.7" stroke-linejoin="round"/>
<path d="M322.2 827.1 L320.8 830.3 L320.9 834.3 L322.4 837.0 L323.7 834.7 L323.7 830.4Z" fill="#fff" stroke="#fff" stroke-width="0.7" stroke-linejoin="round"/>
<path d="M65.0 763.0 C63.0 762.3 60.2 764.5 58.0 766.0 C55.8 767.5 53.8 769.3 51.5 772.0 C49.2 774.7 46.2 778.5 44.0 782.0 C41.8 785.5 39.6 789.0 38.0 793.0 C36.4 797.0 35.0 801.8 34.5 806.0 C34.0 810.2 34.4 814.7 35.0 818.0 C35.6 821.3 36.5 824.3 38.0 826.0 C39.5 827.7 41.7 828.3 44.0 828.0 C46.3 827.7 49.3 825.2 52.0 824.0 C54.7 822.8 57.7 822.2 60.0 821.0 C62.3 819.8 64.5 819.2 66.0 817.0 C67.5 814.8 68.7 811.8 69.0 808.0 C69.3 804.2 68.0 798.7 68.0 794.0 C68.0 789.3 68.7 784.0 69.0 780.0 C69.3 776.0 70.7 772.8 70.0 770.0 C69.3 767.2 67.0 763.7 65.0 763.0Z" fill="url(#gLungL)"/>
<path d="M40.0 796.0 C41.7 796.7 46.7 799.3 50.0 800.0 C53.3 800.7 57.0 800.5 60.0 800.0 C63.0 799.5 66.7 797.5 68.0 797.0" fill="none" stroke="#b77fcc" stroke-width="0.9"/>
<path d="M36.0 812.0 C37.7 812.7 42.3 815.3 46.0 816.0 C49.7 816.7 54.5 816.7 58.0 816.0 C61.5 815.3 65.5 812.7 67.0 812.0" fill="none" stroke="#b77fcc" stroke-width="0.9"/>
<path d="M336.0 759.0 C338.4 757.8 341.2 759.7 343.5 761.0 C345.8 762.3 347.9 764.3 350.0 767.0 C352.1 769.7 354.2 773.3 356.0 777.0 C357.8 780.7 359.4 784.8 361.0 789.0 C362.6 793.2 364.5 797.7 365.5 802.0 C366.5 806.3 367.1 811.0 367.0 815.0 C366.9 819.0 366.4 823.3 365.0 826.0 C363.6 828.7 361.0 830.5 358.5 831.0 C356.0 831.5 352.9 830.2 350.0 829.0 C347.1 827.8 343.8 825.3 341.0 824.0 C338.2 822.7 335.0 822.8 333.0 821.0 C331.0 819.2 329.8 817.2 329.0 813.0 C328.2 808.8 328.8 801.5 328.5 796.0 C328.2 790.5 327.4 784.7 327.5 780.0 C327.6 775.3 327.6 771.5 329.0 768.0 C330.4 764.5 333.6 760.2 336.0 759.0Z" fill="url(#gLungL)"/>
<path d="M331.0 800.0 C332.2 802.0 335.7 808.7 338.0 812.0 C340.3 815.3 342.0 818.0 345.0 820.0 C348.0 822.0 354.2 823.3 356.0 824.0" fill="none" stroke="#b77fcc" stroke-width="0.9"/>
<path d="M142.0 797.0 C139.8 799.5 136.7 806.0 135.0 810.0 C133.3 814.0 131.0 820.1 130.5 824.0 C130.0 827.9 130.5 832.9 131.5 836.0 C132.5 839.1 135.9 842.5 137.0 845.0 C138.1 847.5 137.9 850.5 139.0 853.0 C140.1 855.5 141.4 858.9 144.0 862.0 C146.6 865.1 151.3 870.3 156.0 873.5 C160.7 876.7 168.4 880.8 175.0 883.5 C181.6 886.2 192.9 889.3 200.0 891.5 C207.1 893.7 216.3 897.4 222.0 898.0 C227.7 898.6 234.0 898.0 238.0 895.5 C242.0 893.0 246.3 886.9 248.5 881.0 C250.7 875.1 252.3 863.6 252.5 856.0 C252.7 848.4 251.1 836.5 250.0 830.0 C248.9 823.5 246.9 817.5 245.0 813.0 C243.1 808.5 239.8 803.3 237.0 800.0 C234.2 796.7 229.8 793.0 226.0 791.0 C222.2 789.0 216.2 786.8 212.0 786.5 C207.8 786.2 201.9 787.6 198.0 789.0 C194.1 790.4 189.9 794.8 186.0 796.0 C182.1 797.2 175.9 797.5 172.0 797.0 C168.1 796.5 163.3 793.6 160.0 793.0 C156.7 792.4 152.7 792.4 150.0 793.0 C147.3 793.6 144.2 794.5 142.0 797.0Z" fill="#f2416e"/>
<path d="M243.0 815.0 C243.8 818.3 246.9 827.8 248.0 835.0 C249.1 842.2 250.0 850.5 249.5 858.0 C249.0 865.5 247.2 874.2 245.0 880.0 C242.8 885.8 237.5 890.8 236.0 893.0" fill="none" stroke="#f7708e" stroke-width="2.2" stroke-opacity="0.8"/>
<path d="M121.0 718.0 C119.5 721.2 121.1 735.9 123.0 742.0 C124.9 748.1 132.4 757.6 135.5 764.0 C138.6 770.4 145.1 784.1 146.0 790.0 C146.9 795.9 141.5 804.3 142.0 808.0 C142.5 811.7 146.9 818.0 150.0 818.0 C153.1 818.0 163.3 811.7 165.0 808.0 C166.7 804.3 164.0 795.9 162.5 790.0 C161.0 784.1 156.4 770.4 153.5 764.0 C150.6 757.6 143.5 748.1 141.0 742.0 C138.5 735.9 137.2 721.2 134.5 718.0 C131.8 714.8 122.5 714.8 121.0 718.0Z" fill="url(#gVcs)"/>
<path d="M124.5 720.0 C124.9 723.7 124.6 734.3 127.0 742.0 C129.4 749.7 135.3 757.7 139.0 766.0 C142.7 774.3 147.3 787.7 149.0 792.0" fill="none" stroke="#8fdcf0" stroke-width="2.6" stroke-opacity="0.8"/>
<path d="M139.5 756.0 C139.8 753.8 141.8 753.7 143.0 755.0 C144.2 756.3 145.8 760.3 147.0 764.0 C148.2 767.7 150.2 774.7 150.0 777.0 C149.8 779.3 147.5 779.5 146.0 778.0 C144.5 776.5 142.1 771.7 141.0 768.0 C139.9 764.3 139.2 758.2 139.5 756.0Z" fill="#1b50c4"/>
<path d="M177.0 745.6 C175.2 744.7 170.5 741.5 166.0 740.0 C161.5 738.5 156.0 737.2 150.0 736.5 C144.0 735.8 136.7 736.0 130.0 736.0 C123.3 736.0 116.0 735.8 110.0 736.5 C104.0 737.2 98.6 738.3 94.0 740.0 C89.4 741.7 85.5 744.2 82.5 746.5 C79.5 748.8 77.5 751.4 76.0 753.5 C74.5 755.6 73.9 758.1 73.5 759.0" fill="none" stroke="#2c7cd8" stroke-width="11" stroke-linecap="round" stroke-linejoin="round"/>
<path d="M177.0 745.6 C175.2 744.7 170.5 741.5 166.0 740.0 C161.5 738.5 156.0 737.2 150.0 736.5 C144.0 735.8 136.7 736.0 130.0 736.0 C123.3 736.0 116.0 735.8 110.0 736.5 C104.0 737.2 98.6 738.3 94.0 740.0 C89.4 741.7 85.5 744.2 82.5 746.5 C79.5 748.8 77.5 751.4 76.0 753.5 C74.5 755.6 73.9 758.1 73.5 759.0" fill="none" stroke="#50c4e2" stroke-width="8.4" stroke-linecap="round" stroke-linejoin="round" transform="translate(-0.9 -0.7)"/>
<path d="M177.0 745.6 C175.2 744.7 170.5 741.5 166.0 740.0 C161.5 738.5 156.0 737.2 150.0 736.5 C144.0 735.8 136.7 736.0 130.0 736.0 C123.3 736.0 116.0 735.8 110.0 736.5 C104.0 737.2 98.6 738.3 94.0 740.0 C89.4 741.7 85.5 744.2 82.5 746.5 C79.5 748.8 77.5 751.4 76.0 753.5 C74.5 755.6 73.9 758.1 73.5 759.0" fill="none" stroke="#86e4e4" stroke-width="3.3" stroke-linecap="round" stroke-opacity="0.9" stroke-linejoin="round" transform="translate(-1.71 -1.33)"/>
<path d="M270.0 750.0 C271.7 749.3 276.0 747.2 280.0 746.0 C284.0 744.8 289.2 743.0 294.0 743.0 C298.8 743.0 304.9 744.2 309.0 746.0 C313.1 747.8 316.2 751.2 318.5 754.0 C320.8 756.8 321.8 761.1 322.5 762.5" fill="none" stroke="#2c7cd8" stroke-width="10.4" stroke-linecap="round" stroke-linejoin="round"/>
<path d="M270.0 750.0 C271.7 749.3 276.0 747.2 280.0 746.0 C284.0 744.8 289.2 743.0 294.0 743.0 C298.8 743.0 304.9 744.2 309.0 746.0 C313.1 747.8 316.2 751.2 318.5 754.0 C320.8 756.8 321.8 761.1 322.5 762.5" fill="none" stroke="#50c4e2" stroke-width="7.8" stroke-linecap="round" stroke-linejoin="round" transform="translate(-0.9 -0.7)"/>
<path d="M270.0 750.0 C271.7 749.3 276.0 747.2 280.0 746.0 C284.0 744.8 289.2 743.0 294.0 743.0 C298.8 743.0 304.9 744.2 309.0 746.0 C313.1 747.8 316.2 751.2 318.5 754.0 C320.8 756.8 321.8 761.1 322.5 762.5" fill="none" stroke="#86e4e4" stroke-width="3.1" stroke-linecap="round" stroke-opacity="0.9" stroke-linejoin="round" transform="translate(-1.71 -1.33)"/>
<path d="M177.0 745.6 C178.8 746.5 184.5 748.9 188.0 751.0 C191.5 753.1 195.2 755.5 198.0 758.0 C200.8 760.5 203.2 763.3 205.0 766.0 C206.8 768.7 208.3 772.7 209.0 774.0" fill="none" stroke="#1c5fc4" stroke-width="10.6" stroke-linecap="butt" stroke-linejoin="round"/>
<path d="M177.0 745.6 C178.8 746.5 184.5 748.9 188.0 751.0 C191.5 753.1 195.2 755.5 198.0 758.0 C200.8 760.5 203.2 763.3 205.0 766.0 C206.8 768.7 208.3 772.7 209.0 774.0" fill="none" stroke="#2f86dc" stroke-width="8.0" stroke-linecap="butt" stroke-linejoin="round" transform="translate(-0.9 -0.7)"/>
<path d="M177.0 745.6 C178.8 746.5 184.5 748.9 188.0 751.0 C191.5 753.1 195.2 755.5 198.0 758.0 C200.8 760.5 203.2 763.3 205.0 766.0 C206.8 768.7 208.3 772.7 209.0 774.0" fill="none" stroke="#6fb6f0" stroke-width="3.2" stroke-linecap="butt" stroke-opacity="0.9" stroke-linejoin="round" transform="translate(-1.71 -1.33)"/>
<path d="M128.0 806.5 C129.1 804.9 131.3 800.2 134.5 797.0 C137.7 793.8 142.4 789.5 147.0 787.0 C151.6 784.5 156.5 783.1 162.0 782.0 C167.5 780.9 173.7 780.3 180.0 780.6 C186.3 780.9 196.7 783.4 200.0 784.0" fill="none" stroke="#b8161e" stroke-width="12" stroke-linecap="butt" stroke-linejoin="round"/>
<path d="M128.0 806.5 C129.1 804.9 131.3 800.2 134.5 797.0 C137.7 793.8 142.4 789.5 147.0 787.0 C151.6 784.5 156.5 783.1 162.0 782.0 C167.5 780.9 173.7 780.3 180.0 780.6 C186.3 780.9 196.7 783.4 200.0 784.0" fill="none" stroke="#e02a34" stroke-width="9.4" stroke-linecap="butt" stroke-linejoin="round" transform="translate(-0.9 -0.7)"/>
<path d="M128.0 806.5 C129.1 804.9 131.3 800.2 134.5 797.0 C137.7 793.8 142.4 789.5 147.0 787.0 C151.6 784.5 156.5 783.1 162.0 782.0 C167.5 780.9 173.7 780.3 180.0 780.6 C186.3 780.9 196.7 783.4 200.0 784.0" fill="none" stroke="#f46a66" stroke-width="3.6" stroke-linecap="butt" stroke-opacity="0.9" stroke-linejoin="round" transform="translate(-1.71 -1.33)"/>
<path d="M195.0 802.0 C196.4 797.8 200.2 793.8 204.0 792.0 C207.8 790.2 215.2 789.5 220.0 790.0 C224.8 790.5 232.4 792.8 236.0 795.0 C239.6 797.2 243.0 801.5 244.0 805.0 C245.0 808.5 242.9 813.4 242.5 818.0 C242.1 822.6 241.7 830.3 241.0 836.0 C240.3 841.7 239.6 850.1 238.0 856.0 C236.4 861.9 232.8 871.5 230.5 875.0 C228.2 878.5 225.0 880.0 222.5 879.5 C220.0 879.0 216.5 875.2 214.0 872.0 C211.5 868.8 208.3 862.8 206.0 858.0 C203.7 853.2 200.2 845.7 198.5 840.0 C196.8 834.3 195.0 825.7 194.5 820.0 C194.0 814.3 193.6 806.2 195.0 802.0Z" fill="url(#gLv)"/>
<path d="M204.0 800.0 C205.3 802.0 209.8 807.3 212.0 812.0 C214.2 816.7 215.7 823.0 217.0 828.0 C218.3 833.0 219.5 839.7 220.0 842.0" fill="none" stroke="#f0504a" stroke-width="4.5" stroke-opacity="0.7"/>
<path d="M237.0 808.0 C237.2 811.0 238.5 819.3 238.0 826.0 C237.5 832.7 235.7 841.3 234.0 848.0 C232.3 854.7 229.0 863.0 228.0 866.0" fill="none" stroke="#ea4440" stroke-width="3.6" stroke-opacity="0.7"/>
<path d="M209.0 824.0 C209.8 826.7 212.0 835.0 214.0 840.0 C216.0 845.0 219.8 851.7 221.0 854.0" fill="none" stroke="#8e1016" stroke-width="2.2" stroke-opacity="0.7"/>
<path d="M233.0 826.0 C232.7 828.7 232.2 837.0 231.0 842.0 C229.8 847.0 226.8 853.7 226.0 856.0" fill="none" stroke="#8e1016" stroke-width="1.8" stroke-opacity="0.6"/>
<path d="M272.0 762.0 C272.0 768.3 272.0 770.7 272.0 800.0 C272.0 829.3 272.0 915.0 272.0 938.0" fill="none" stroke="#c6121e" stroke-width="13.4" stroke-linecap="butt" stroke-linejoin="round"/>
<path d="M272.0 762.0 C272.0 768.3 272.0 770.7 272.0 800.0 C272.0 829.3 272.0 915.0 272.0 938.0" fill="none" stroke="#f22450" stroke-width="10.8" stroke-linecap="butt" stroke-linejoin="round" transform="translate(-0.9 -0.7)"/>
<path d="M272.0 762.0 C272.0 768.3 272.0 770.7 272.0 800.0 C272.0 829.3 272.0 915.0 272.0 938.0" fill="none" stroke="#f9607c" stroke-width="4.0" stroke-linecap="butt" stroke-opacity="0.9" stroke-linejoin="round" transform="translate(-1.71 -1.33)"/>
<path d="M212.0 751.0 C214.3 750.2 221.3 747.9 226.0 746.5 C230.7 745.1 235.7 743.3 240.0 742.5 C244.3 741.7 248.4 741.3 252.0 741.5 C255.6 741.7 258.8 742.2 261.5 743.5 C264.2 744.8 266.8 747.1 268.5 749.5 C270.2 751.9 271.0 754.9 271.6 758.0 C272.2 761.1 272.1 766.3 272.2 768.0" fill="none" stroke="#c6121e" stroke-width="11.6" stroke-linecap="butt" stroke-linejoin="round"/>
<path d="M212.0 751.0 C214.3 750.2 221.3 747.9 226.0 746.5 C230.7 745.1 235.7 743.3 240.0 742.5 C244.3 741.7 248.4 741.3 252.0 741.5 C255.6 741.7 258.8 742.2 261.5 743.5 C264.2 744.8 266.8 747.1 268.5 749.5 C270.2 751.9 271.0 754.9 271.6 758.0 C272.2 761.1 272.1 766.3 272.2 768.0" fill="none" stroke="#f22450" stroke-width="9.0" stroke-linecap="butt" stroke-linejoin="round" transform="translate(-0.9 -0.7)"/>
<path d="M212.0 751.0 C214.3 750.2 221.3 747.9 226.0 746.5 C230.7 745.1 235.7 743.3 240.0 742.5 C244.3 741.7 248.4 741.3 252.0 741.5 C255.6 741.7 258.8 742.2 261.5 743.5 C264.2 744.8 266.8 747.1 268.5 749.5 C270.2 751.9 271.0 754.9 271.6 758.0 C272.2 761.1 272.1 766.3 272.2 768.0" fill="none" stroke="#f9607c" stroke-width="3.5" stroke-linecap="butt" stroke-opacity="0.9" stroke-linejoin="round" transform="translate(-1.71 -1.33)"/>
<path d="M290.0 832.0 C288.5 830.0 285.0 823.5 281.0 820.0 C277.0 816.5 270.8 813.2 266.0 811.0 C261.2 808.8 256.7 807.3 252.0 807.0 C247.3 806.7 240.3 808.7 238.0 809.0" fill="none" stroke="#c6121e" stroke-width="10.4" stroke-linecap="butt" stroke-linejoin="round"/>
<path d="M290.0 832.0 C288.5 830.0 285.0 823.5 281.0 820.0 C277.0 816.5 270.8 813.2 266.0 811.0 C261.2 808.8 256.7 807.3 252.0 807.0 C247.3 806.7 240.3 808.7 238.0 809.0" fill="none" stroke="#f22450" stroke-width="7.8" stroke-linecap="butt" stroke-linejoin="round" transform="translate(-0.9 -0.7)"/>
<path d="M290.0 832.0 C288.5 830.0 285.0 823.5 281.0 820.0 C277.0 816.5 270.8 813.2 266.0 811.0 C261.2 808.8 256.7 807.3 252.0 807.0 C247.3 806.7 240.3 808.7 238.0 809.0" fill="none" stroke="#f9607c" stroke-width="3.1" stroke-linecap="butt" stroke-opacity="0.9" stroke-linejoin="round" transform="translate(-1.71 -1.33)"/>
<path d="M193.0 806.0 C191.9 803.7 187.8 796.7 186.5 792.0 C185.2 787.3 184.6 782.3 185.0 778.0 C185.4 773.7 186.8 769.5 189.0 766.0 C191.2 762.5 194.2 759.5 198.0 757.0 C201.8 754.5 209.7 752.0 212.0 751.0" fill="none" stroke="#9a1218" stroke-width="11.4" stroke-linecap="butt" stroke-linejoin="round"/>
<path d="M193.0 806.0 C191.9 803.7 187.8 796.7 186.5 792.0 C185.2 787.3 184.6 782.3 185.0 778.0 C185.4 773.7 186.8 769.5 189.0 766.0 C191.2 762.5 194.2 759.5 198.0 757.0 C201.8 754.5 209.7 752.0 212.0 751.0" fill="none" stroke="#cc1f26" stroke-width="8.8" stroke-linecap="butt" stroke-linejoin="round" transform="translate(-0.9 -0.7)"/>
<path d="M193.0 806.0 C191.9 803.7 187.8 796.7 186.5 792.0 C185.2 787.3 184.6 782.3 185.0 778.0 C185.4 773.7 186.8 769.5 189.0 766.0 C191.2 762.5 194.2 759.5 198.0 757.0 C201.8 754.5 209.7 752.0 212.0 751.0" fill="none" stroke="#ea4a44" stroke-width="3.4" stroke-linecap="butt" stroke-opacity="0.9" stroke-linejoin="round" transform="translate(-1.71 -1.33)"/>
<path d="M123.8 861.0 C122.0 859.3 123.5 851.1 123.8 848.0 C124.1 844.9 124.9 840.3 126.0 838.0 C127.1 835.7 130.0 831.4 132.0 831.0 C134.0 830.6 140.1 833.0 141.0 835.0 C141.9 837.0 139.5 843.5 139.0 846.0 C138.5 848.5 137.6 852.0 137.4 854.0 C137.2 856.0 139.2 860.1 137.4 861.0 C135.6 861.9 125.6 862.7 123.8 861.0Z" fill="url(#gIvc)"/>
<path d="M140.0 806.0 C141.8 803.6 144.2 801.0 147.0 800.0 C149.8 799.0 155.8 798.3 159.0 799.5 C162.2 800.7 166.0 804.6 168.0 808.0 C170.0 811.4 172.1 817.8 172.5 822.0 C172.9 826.2 172.3 832.7 171.0 836.0 C169.7 839.3 166.8 842.4 164.0 844.0 C161.2 845.6 155.4 847.5 152.0 847.0 C148.6 846.5 143.6 843.5 141.0 841.0 C138.4 838.5 135.4 833.8 134.5 830.0 C133.6 826.2 134.2 819.6 135.0 816.0 C135.8 812.4 138.2 808.4 140.0 806.0Z" fill="url(#gAtr)"/>
<path d="M184.0 806.0 C186.1 805.7 190.5 804.8 192.0 808.0 C193.5 811.2 193.8 823.6 195.0 830.0 C196.2 836.4 199.5 849.6 201.0 856.0 C202.5 862.4 206.4 874.1 206.5 878.0 C206.6 881.9 204.5 884.8 202.0 885.5 C199.5 886.2 192.3 884.3 188.0 883.0 C183.7 881.7 174.3 878.1 170.0 876.0 C165.7 873.9 159.0 869.5 156.0 867.0 C153.0 864.5 148.8 859.3 147.5 857.0 C146.2 854.7 144.9 851.0 146.0 849.5 C147.1 848.0 153.2 845.3 156.0 845.5 C158.8 845.7 164.5 850.4 167.0 851.0 C169.5 851.6 174.5 851.7 175.0 850.0 C175.5 848.3 171.1 841.7 170.5 838.0 C169.9 834.3 169.8 825.7 170.5 822.0 C171.2 818.3 174.2 812.1 176.0 810.0 C177.8 807.9 181.9 806.3 184.0 806.0Z" fill="url(#gRv)"/>
<path d="M176.0 812.0 C175.5 814.3 173.3 821.3 173.0 826.0 C172.7 830.7 173.0 835.7 174.0 840.0 C175.0 844.3 178.2 850.0 179.0 852.0" fill="none" stroke="#59b4f0" stroke-width="3" stroke-opacity="0.7"/>
<path d="M171.5 820.0 C171.1 821.7 169.2 826.7 169.0 830.0 C168.8 833.3 170.8 837.2 170.5 840.0 C170.2 842.8 167.6 845.8 167.0 847.0" fill="none" stroke="#f2416e" stroke-width="1.8"/>
<path d="M139.0 848.0 C138.8 847.1 144.8 843.7 148.0 843.5 C151.2 843.3 156.8 844.9 160.0 846.5 C163.2 848.1 169.0 853.4 169.0 854.0 C169.0 854.6 163.0 851.2 160.0 850.5 C157.0 849.8 152.2 849.9 149.0 849.5 C145.8 849.1 139.2 848.9 139.0 848.0Z" fill="#f2416e"/>
<path d="M182.5 858.0 C182.5 855.0 182.3 845.7 182.5 840.0 C182.7 834.3 182.9 829.0 183.5 824.0 C184.1 819.0 184.8 814.2 186.0 810.0 C187.2 805.8 188.3 803.0 190.5 799.0 C192.7 795.0 195.9 790.1 199.0 786.0 C202.1 781.9 207.3 776.4 209.0 774.5" fill="none" stroke="#1c5fc4" stroke-width="11.8" stroke-linecap="butt" stroke-linejoin="round"/>
<path d="M182.5 858.0 C182.5 855.0 182.3 845.7 182.5 840.0 C182.7 834.3 182.9 829.0 183.5 824.0 C184.1 819.0 184.8 814.2 186.0 810.0 C187.2 805.8 188.3 803.0 190.5 799.0 C192.7 795.0 195.9 790.1 199.0 786.0 C202.1 781.9 207.3 776.4 209.0 774.5" fill="none" stroke="#2f86dc" stroke-width="9.2" stroke-linecap="butt" stroke-linejoin="round" transform="translate(-0.9 -0.7)"/>
<path d="M182.5 858.0 C182.5 855.0 182.3 845.7 182.5 840.0 C182.7 834.3 182.9 829.0 183.5 824.0 C184.1 819.0 184.8 814.2 186.0 810.0 C187.2 805.8 188.3 803.0 190.5 799.0 C192.7 795.0 195.9 790.1 199.0 786.0 C202.1 781.9 207.3 776.4 209.0 774.5" fill="none" stroke="#6fb6f0" stroke-width="3.5" stroke-linecap="butt" stroke-opacity="0.9" stroke-linejoin="round" transform="translate(-1.71 -1.33)"/>
<path d="M207.0 776.5 C209.2 776.3 215.5 776.2 220.0 775.5 C224.5 774.8 229.7 773.6 234.0 772.0 C238.3 770.4 242.2 768.3 246.0 766.0 C249.8 763.7 253.3 760.6 257.0 758.0 C260.7 755.4 266.2 751.8 268.0 750.5" fill="none" stroke="#1c5fc4" stroke-width="10.6" stroke-linecap="butt" stroke-linejoin="round"/>
<path d="M207.0 776.5 C209.2 776.3 215.5 776.2 220.0 775.5 C224.5 774.8 229.7 773.6 234.0 772.0 C238.3 770.4 242.2 768.3 246.0 766.0 C249.8 763.7 253.3 760.6 257.0 758.0 C260.7 755.4 266.2 751.8 268.0 750.5" fill="none" stroke="#2f86dc" stroke-width="8.0" stroke-linecap="butt" stroke-linejoin="round" transform="translate(-0.9 -0.7)"/>
<path d="M207.0 776.5 C209.2 776.3 215.5 776.2 220.0 775.5 C224.5 774.8 229.7 773.6 234.0 772.0 C238.3 770.4 242.2 768.3 246.0 766.0 C249.8 763.7 253.3 760.6 257.0 758.0 C260.7 755.4 266.2 751.8 268.0 750.5" fill="none" stroke="#6fb6f0" stroke-width="3.2" stroke-linecap="butt" stroke-opacity="0.9" stroke-linejoin="round" transform="translate(-1.71 -1.33)"/>
<path d="M193.5 812.0 C193.9 815.3 194.6 824.7 196.0 832.0 C197.4 839.3 200.0 848.2 202.0 856.0 C204.0 863.8 207.0 875.2 208.0 879.0" fill="none" stroke="#f2416e" stroke-width="3"/>
<path d="M153.0 738.5 C150.8 738.3 144.2 737.8 140.0 737.5 C135.8 737.2 130.0 737.1 128.0 737.0" fill="none" stroke="#fff" stroke-width="1.7" stroke-linecap="round"/>
<path d="M124.1 736.8 L131.0 734.5 L130.8 739.8Z" fill="#fff"/>
<path d="M139.5 798.5 C140.9 797.2 144.8 792.6 148.0 790.5 C151.2 788.4 155.5 787.0 159.0 786.0 C162.5 785.0 167.3 784.5 169.0 784.2" fill="none" stroke="#fff" stroke-width="1.7" stroke-linecap="round"/>
<path d="M172.8 783.5 L166.6 787.3 L165.7 782.1Z" fill="#fff"/>
<path d="M226.0 747.5 C227.7 747.1 233.0 745.7 236.0 745.0 C239.0 744.3 242.7 743.8 244.0 743.5" fill="none" stroke="#fff" stroke-width="1.7" stroke-linecap="round"/>
<path d="M247.8 742.8 L241.7 746.6 L240.7 741.4Z" fill="#fff"/>
<path d="M258.0 745.0 C259.0 745.8 262.3 748.2 264.0 750.0 C265.7 751.8 267.3 755.0 268.0 756.0" fill="none" stroke="#fff" stroke-width="1.7" stroke-linecap="round"/>
<path d="M269.4 758.1 L265.5 755.4 L268.4 753.5Z" fill="#fff"/>
<path d="M274.0 762.0 C274.3 764.2 275.8 771.0 276.0 775.0 C276.2 779.0 275.6 784.2 275.5 786.0" fill="none" stroke="#fff" stroke-width="1.7" stroke-linecap="round"/>
<path d="M275.3 789.4 L273.3 783.4 L277.9 783.6Z" fill="#fff"/>
<path d="M197.0 790.0 C198.8 788.2 203.8 781.5 208.0 779.0 C212.2 776.5 217.3 776.5 222.0 775.0 C226.7 773.5 232.0 771.7 236.0 770.0 C240.0 768.3 244.3 765.8 246.0 765.0" fill="none" stroke="#fff" stroke-width="1.7" stroke-linecap="round"/>
<path d="M249.5 763.3 L244.6 768.6 L242.2 763.9Z" fill="#fff"/>
<path d="M214.0 778.0 C213.5 777.0 212.0 774.0 211.0 772.0 C210.0 770.0 208.5 767.0 208.0 766.0" fill="none" stroke="#fff" stroke-width="1.7" stroke-linecap="round"/>
<path d="M206.8 763.6 L210.5 767.0 L207.3 768.6Z" fill="#fff"/>
<path d="M211.0 791.0 C211.3 792.0 212.4 795.2 213.0 797.0 C213.6 798.8 214.2 801.2 214.5 802.0" fill="none" stroke="#fff" stroke-width="1.7" stroke-linecap="round"/>
<path d="M215.3 804.6 L212.2 800.6 L215.7 799.6Z" fill="#fff"/>
<path d="M251.0 808.0 C249.8 807.8 246.2 806.5 244.0 806.5 C241.8 806.5 239.0 807.8 238.0 808.0" fill="none" stroke="#fff" stroke-width="1.7" stroke-linecap="round"/>
<path d="M235.5 808.6 L239.4 805.9 L240.2 809.2Z" fill="#fff"/>
<path d="M282.0 822.0 C280.8 821.2 277.2 818.8 275.0 817.5 C272.8 816.2 270.0 814.6 269.0 814.0" fill="none" stroke="#fff" stroke-width="1.7" stroke-linecap="round"/>
<path d="M266.7 812.6 L271.6 813.4 L269.8 816.6Z" fill="#fff"/>
<path d="M226.5 822.0 C226.5 824.0 226.5 830.5 226.5 834.0 C226.5 837.5 226.5 841.5 226.5 843.0" fill="none" stroke="#fff" stroke-width="1.7" stroke-linecap="round"/>
<path d="M226.5 846.0 L224.5 840.8 L228.5 840.8Z" fill="#fff"/>
<path d="M229.0 869.0 C227.5 867.8 222.8 865.5 220.0 862.0 C217.2 858.5 213.8 852.3 212.0 848.0 C210.2 843.7 209.5 838.0 209.0 836.0" fill="none" stroke="#fff" stroke-width="1.7" stroke-linecap="round"/>
<path d="M208.3 833.1 L211.5 837.7 L207.6 838.6Z" fill="#fff"/>
<path d="M182.0 858.0 C182.1 856.0 182.5 850.2 182.5 846.0 C182.5 841.8 182.1 835.2 182.0 833.0" fill="none" stroke="#fff" stroke-width="1.7" stroke-linecap="round"/>
<path d="M181.9 829.9 L184.2 835.2 L180.0 835.4Z" fill="#fff"/>
<path d="M189.0 872.0 C189.7 871.0 192.8 868.3 193.0 866.0 C193.2 863.7 190.5 859.3 190.0 858.0" fill="none" stroke="#fff" stroke-width="1.2" stroke-linecap="round"/>
<path d="M190.0 857.9 L190.1 858.0 L190.0 858.1Z" fill="#fff"/>
<path d="M160.0 835.0 C160.7 836.8 162.2 842.7 164.0 846.0 C165.8 849.3 169.8 853.5 171.0 855.0" fill="none" stroke="#fff" stroke-width="1.7" stroke-linecap="round"/>
<path d="M172.8 857.4 L168.0 854.5 L171.2 852.0Z" fill="#fff"/>
<path d="M131.0 858.0 C131.2 856.0 131.0 849.5 132.0 846.0 C133.0 842.5 135.3 839.2 137.0 837.0 C138.7 834.8 141.2 833.7 142.0 833.0" fill="none" stroke="#fff" stroke-width="1.7" stroke-linecap="round"/>
<path d="M144.3 831.1 L141.5 836.0 L139.0 832.8Z" fill="#fff"/>
<path d="M286.0 745.5 C287.7 745.3 294.3 744.7 296.0 744.5" fill="none" stroke="#fff" stroke-width="1.3" stroke-linecap="round"/>
<path d="M296.1 744.5 L296.0 744.6 L295.9 744.5Z" fill="#fff"/>
<path d="M299.0 744.8 C300.2 745.1 303.8 745.6 306.0 746.5 C308.2 747.4 311.0 749.4 312.0 750.0" fill="none" stroke="#fff" stroke-width="1.7" stroke-linecap="round"/>
<path d="M314.3 751.4 L309.4 750.6 L311.2 747.4Z" fill="#fff"/>
<circle cx="173.8" cy="632.3" r="9.2" fill="#ee1c24"/>
<text x="173.8" y="637.2" font-family="Liberation Serif, serif" font-weight="700" font-size="14.4" fill="#fff" text-anchor="middle" textLength="8.9" lengthAdjust="spacingAndGlyphs">8</text>
<circle cx="159.8" cy="1000.8" r="9.2" fill="#ee1c24"/>
<text x="159.8" y="1005.7" font-family="Liberation Serif, serif" font-weight="700" font-size="14.4" fill="#fff" text-anchor="middle" textLength="8.9" lengthAdjust="spacingAndGlyphs">8</text>
<circle cx="29.2" cy="775.4" r="9.2" fill="#ee1c24"/>
<text x="29.2" y="780.3" font-family="Liberation Serif, serif" font-weight="700" font-size="14.4" fill="#fff" text-anchor="middle" textLength="8.9" lengthAdjust="spacingAndGlyphs">3</text>
<circle cx="370.8" cy="775" r="9.2" fill="#ee1c24"/>
<text x="370.8" y="779.9" font-family="Liberation Serif, serif" font-weight="700" font-size="14.4" fill="#fff" text-anchor="middle" textLength="8.9" lengthAdjust="spacingAndGlyphs">3</text>
<circle cx="130.3" cy="721" r="10.2" fill="#fff"/>
<circle cx="130.3" cy="721" r="9.2" fill="#ee1c24"/>
<text x="130.3" y="725.9" font-family="Liberation Serif, serif" font-weight="700" font-size="14.4" fill="#fff" text-anchor="middle" textLength="8.9" lengthAdjust="spacingAndGlyphs">9</text>
<circle cx="130.3" cy="900" r="10.2" fill="#fff"/>
<circle cx="130.3" cy="900" r="9.2" fill="#ee1c24"/>
<text x="130.3" y="904.9" font-family="Liberation Serif, serif" font-weight="700" font-size="14.4" fill="#fff" text-anchor="middle" textLength="8.9" lengthAdjust="spacingAndGlyphs">9</text>
<circle cx="176.8" cy="745.3" r="10.2" fill="#fff"/>
<circle cx="176.8" cy="745.3" r="9.2" fill="#ee1c24"/>
<text x="176.8" y="750.2" font-family="Liberation Serif, serif" font-weight="700" font-size="14.4" fill="#fff" text-anchor="middle" textLength="8.9" lengthAdjust="spacingAndGlyphs">2</text>
<circle cx="269.6" cy="749.7" r="10.2" fill="#fff"/>
<circle cx="269.6" cy="749.7" r="9.2" fill="#ee1c24"/>
<text x="269.6" y="754.6" font-family="Liberation Serif, serif" font-weight="700" font-size="14.4" fill="#fff" text-anchor="middle" textLength="8.9" lengthAdjust="spacingAndGlyphs">2</text>
<circle cx="211.8" cy="750.6" r="10.2" fill="#fff"/>
<circle cx="211.8" cy="750.6" r="9.2" fill="#ee1c24"/>
<text x="211.8" y="755.5" font-family="Liberation Serif, serif" font-weight="700" font-size="14.4" fill="#fff" text-anchor="middle" textLength="8.9" lengthAdjust="spacingAndGlyphs">7</text>
<circle cx="127.8" cy="807" r="10.2" fill="#fff"/>
<circle cx="127.8" cy="807" r="9.2" fill="#ee1c24"/>
<text x="127.8" y="811.9" font-family="Liberation Serif, serif" font-weight="700" font-size="14.4" fill="#fff" text-anchor="middle" textLength="8.9" lengthAdjust="spacingAndGlyphs">4</text>
<circle cx="289.6" cy="832.3" r="10.2" fill="#fff"/>
<circle cx="289.6" cy="832.3" r="9.2" fill="#ee1c24"/>
<text x="289.6" y="837.2" font-family="Liberation Serif, serif" font-weight="700" font-size="14.4" fill="#fff" text-anchor="middle" textLength="8.9" lengthAdjust="spacingAndGlyphs">4</text>
<circle cx="155.6" cy="821.6" r="10.2" fill="#fff"/>
<circle cx="155.6" cy="821.6" r="9.2" fill="#ee1c24"/>
<text x="155.6" y="825.7" font-family="Liberation Serif, serif" font-weight="700" font-size="12" fill="#fff" text-anchor="middle" textLength="13.8" lengthAdjust="spacingAndGlyphs">10</text>
<circle cx="181" cy="867" r="10.2" fill="#fff"/>
<circle cx="181" cy="867" r="9.2" fill="#ee1c24"/>
<text x="181" y="871.9" font-family="Liberation Serif, serif" font-weight="700" font-size="14.4" fill="#fff" text-anchor="middle" textLength="8.9" lengthAdjust="spacingAndGlyphs">1</text>
<circle cx="226.4" cy="810.5" r="10.2" fill="#fff"/>
<circle cx="226.4" cy="810.5" r="9.2" fill="#ee1c24"/>
<text x="226.4" y="815.4" font-family="Liberation Serif, serif" font-weight="700" font-size="14.4" fill="#fff" text-anchor="middle" textLength="8.9" lengthAdjust="spacingAndGlyphs">5</text>
<circle cx="227.2" cy="858" r="10.2" fill="#fff"/>
<circle cx="227.2" cy="858" r="9.2" fill="#ee1c24"/>
<text x="227.2" y="862.9" font-family="Liberation Serif, serif" font-weight="700" font-size="14.4" fill="#fff" text-anchor="middle" textLength="8.9" lengthAdjust="spacingAndGlyphs">6</text>
<text x="255.4" y="619.2" textLength="72.6" lengthAdjust="spacingAndGlyphs" font-family="Liberation Serif, serif" font-weight="400" font-size="10.6" fill="#222" stroke="#222" stroke-width="0.42">Kapiler daerah</text>
<text x="255.4" y="630.8" textLength="86.1" lengthAdjust="spacingAndGlyphs" font-family="Liberation Serif, serif" font-weight="400" font-size="10.6" fill="#222" stroke="#222" stroke-width="0.42">kepala, dada, dan</text>
<text x="255.4" y="642" textLength="33.6" lengthAdjust="spacingAndGlyphs" font-family="Liberation Serif, serif" font-weight="400" font-size="10.6" fill="#222" stroke="#222" stroke-width="0.42">tangan</text>
<line x1="254" y1="635.8" x2="237.3" y2="651" stroke="#2a2a2a" stroke-width="1.5"/>
<text x="61.3" y="662" textLength="50.7" lengthAdjust="spacingAndGlyphs" font-family="Liberation Serif, serif" font-weight="400" font-size="10.6" fill="#222" stroke="#222" stroke-width="0.42">Vana kava</text>
<text x="61.3" y="673.8" textLength="41.2" lengthAdjust="spacingAndGlyphs" font-family="Liberation Serif, serif" font-weight="400" font-size="10.6" fill="#222" stroke="#222" stroke-width="0.42">superior</text>
<line x1="104.5" y1="675.5" x2="121" y2="691" stroke="#2a2a2a" stroke-width="1.5"/>
<text x="27" y="709.5" textLength="28.0" lengthAdjust="spacingAndGlyphs" font-family="Liberation Serif, serif" font-weight="400" font-size="10.6" fill="#222" stroke="#222" stroke-width="0.42">Arteri</text>
<text x="27" y="721" textLength="54.0" lengthAdjust="spacingAndGlyphs" font-family="Liberation Serif, serif" font-weight="400" font-size="10.6" fill="#222" stroke="#222" stroke-width="0.42">pulmonalis</text>
<line x1="85" y1="722.5" x2="102.5" y2="738.8" stroke="#2a2a2a" stroke-width="1.5"/>
<text x="14.6" y="743.8" textLength="40.4" lengthAdjust="spacingAndGlyphs" font-family="Liberation Serif, serif" font-weight="400" font-size="10.6" fill="#222" stroke="#222" stroke-width="0.42">er paru-</text>
<text x="13.2" y="754.5" textLength="19.8" lengthAdjust="spacingAndGlyphs" font-family="Liberation Serif, serif" font-weight="400" font-size="10.6" fill="#222" stroke="#222" stroke-width="0.42">kiri</text>
<line x1="55" y1="747" x2="71" y2="763.8" stroke="#2a2a2a" stroke-width="1.5"/>
<text x="200.8" y="725" textLength="26.7" lengthAdjust="spacingAndGlyphs" font-family="Liberation Serif, serif" font-weight="400" font-size="10.6" fill="#222" stroke="#222" stroke-width="0.42">Aorta</text>
<line x1="216" y1="730" x2="228.8" y2="742.5" stroke="#2a2a2a" stroke-width="1.5"/>
<text x="297.3" y="713" textLength="28.5" lengthAdjust="spacingAndGlyphs" font-family="Liberation Serif, serif" font-weight="400" font-size="10.6" fill="#222" stroke="#222" stroke-width="0.42">Arteri</text>
<text x="297.3" y="725" textLength="54.6" lengthAdjust="spacingAndGlyphs" font-family="Liberation Serif, serif" font-weight="400" font-size="10.6" fill="#222" stroke="#222" stroke-width="0.42">pulmonalis</text>
<line x1="320.2" y1="728" x2="302.5" y2="742.7" stroke="#2a2a2a" stroke-width="1.5"/>
<text x="339" y="740.6" textLength="48.0" lengthAdjust="spacingAndGlyphs" font-family="Liberation Serif, serif" font-weight="400" font-size="10.6" fill="#222" stroke="#222" stroke-width="0.42">Kapiler pa</text>
<text x="339" y="752" textLength="43.5" lengthAdjust="spacingAndGlyphs" font-family="Liberation Serif, serif" font-weight="400" font-size="10.6" fill="#222" stroke="#222" stroke-width="0.42">paru kiri</text>
<line x1="336.9" y1="748.3" x2="320.2" y2="763.5" stroke="#2a2a2a" stroke-width="1.5"/>
<text x="326.3" y="854.6" textLength="25.0" lengthAdjust="spacingAndGlyphs" font-family="Liberation Serif, serif" font-weight="400" font-size="10.6" fill="#222" stroke="#222" stroke-width="0.42">Vena</text>
<text x="326.3" y="867" textLength="58.2" lengthAdjust="spacingAndGlyphs" font-family="Liberation Serif, serif" font-weight="400" font-size="10.6" fill="#222" stroke="#222" stroke-width="0.42">pulmonalis</text>
<line x1="324.4" y1="848.3" x2="297.3" y2="841.7" stroke="#2a2a2a" stroke-width="1.5"/>
<text x="301.3" y="882" textLength="61.0" lengthAdjust="spacingAndGlyphs" font-family="Liberation Serif, serif" font-weight="400" font-size="10.6" fill="#222" stroke="#222" stroke-width="0.42">Serambi kiri</text>
<line x1="301.3" y1="873.8" x2="233" y2="817.5" stroke="#2a2a2a" stroke-width="1.5"/>
<text x="305.4" y="904" textLength="42.6" lengthAdjust="spacingAndGlyphs" font-family="Liberation Serif, serif" font-weight="400" font-size="10.6" fill="#222" stroke="#222" stroke-width="0.42">Bilik kiri</text>
<line x1="303.3" y1="899.8" x2="235" y2="863.5" stroke="#2a2a2a" stroke-width="1.5"/>
<text x="296.3" y="939.4" textLength="28.9" lengthAdjust="spacingAndGlyphs" font-family="Liberation Serif, serif" font-weight="400" font-size="10.6" fill="#222" stroke="#222" stroke-width="0.42">Arteri</text>
<line x1="293.5" y1="935.2" x2="274.8" y2="924.2" stroke="#2a2a2a" stroke-width="1.5"/>
<text x="282" y="985.2" textLength="43.8" lengthAdjust="spacingAndGlyphs" font-family="Liberation Serif, serif" font-weight="400" font-size="10.6" fill="#222" stroke="#222" stroke-width="0.42">Arteriole</text>
<line x1="280" y1="984.2" x2="260.2" y2="972" stroke="#2a2a2a" stroke-width="1.5"/>
<text x="253" y="1008" textLength="102.6" lengthAdjust="spacingAndGlyphs" font-family="Liberation Serif, serif" font-weight="400" font-size="10.6" fill="#222" stroke="#222" stroke-width="0.42">Kapiler daerah perut</text>
<text x="253" y="1019.6" textLength="42.0" lengthAdjust="spacingAndGlyphs" font-family="Liberation Serif, serif" font-weight="400" font-size="10.6" fill="#222" stroke="#222" stroke-width="0.42">dan kaki</text>
<line x1="252.5" y1="1006" x2="197" y2="967" stroke="#2a2a2a" stroke-width="1.5"/>
<text x="17.6" y="859.8" textLength="71.6" lengthAdjust="spacingAndGlyphs" font-family="Liberation Serif, serif" font-weight="400" font-size="10.6" fill="#222" stroke="#222" stroke-width="0.42">erambi kanan</text>
<line x1="94.4" y1="857" x2="135" y2="826" stroke="#2a2a2a" stroke-width="1.5"/>
<text x="27.7" y="886.9" textLength="55.6" lengthAdjust="spacingAndGlyphs" font-family="Liberation Serif, serif" font-weight="400" font-size="10.6" fill="#222" stroke="#222" stroke-width="0.42">Bilik kanan</text>
<line x1="85.4" y1="884.8" x2="158.3" y2="863.3" stroke="#2a2a2a" stroke-width="1.5"/>
<text x="75.6" y="925.8" textLength="24.4" lengthAdjust="spacingAndGlyphs" font-family="Liberation Serif, serif" font-weight="400" font-size="10.6" fill="#222" stroke="#222" stroke-width="0.42">Vena</text>
<line x1="103.8" y1="924.4" x2="123.5" y2="912.5" stroke="#2a2a2a" stroke-width="1.5"/>
<text x="82.5" y="985.2" textLength="33.8" lengthAdjust="spacingAndGlyphs" font-family="Liberation Serif, serif" font-weight="400" font-size="10.6" fill="#222" stroke="#222" stroke-width="0.42">Venula</text>
<line x1="120.4" y1="983.8" x2="140.2" y2="971.9" stroke="#2a2a2a" stroke-width="1.5"/>
<rect x="0" y="730" width="18.6" height="140" fill="#fff"/>
<rect x="380.2" y="700" width="7" height="200" fill="#fff"/>
</svg>
<div class='t h16' style='left:248.7px;top:52.74px;letter-spacing:-0.103px;transform:scaleX(1.13);'>PEMERINTAH KOTA BANDUNG</div>
<div class='t h16' style='left:298.0px;top:74.34px;letter-spacing:-0.236px;transform:scaleX(1.13);'>DINAS PENDIDIKAN</div>
<div class='t h16' style='left:216.0px;top:96.94px;letter-spacing:-0.165px;transform:scaleX(1.13);'>SEKOLAH DASAR NEGERI 037 SABANG</div>
<div class='t h13' style='left:162.0px;top:115.45px;letter-spacing:0.155px;transform:scaleX(1.12);'>Alamat : Jl. Sabang  No.2, Kec  Bandung Wetan Kota Bandung 40114</div>
<div class='t h13' style='left:217.7px;top:133.45px;letter-spacing:0.146px;transform:scaleX(1.12);'>Telp.022-7208209     email: sdpnsabang2@gmail.com</div>
<div class='t ttl' style='left:314.0px;top:167.11px;letter-spacing:0.130px;transform:scaleX(1.08);'>PENILAIAN HARIAN</div>
<div class='t ttl' style='left:266.0px;top:179.71px;letter-spacing:0.202px;transform:scaleX(1.08);'>KELAS V TAHUN AJARAN 2023 / 2024</div>
<div class='t nil' style='left:656.7px;top:173.33px;letter-spacing:0.859px;'>NILAI</div>
<div class='t ser' style='left:58.3px;top:200.49px;letter-spacing:-0.365px;transform:scaleX(1.13);'>Nama</div>
<div class='t ser' style='left:102.3px;top:200.49px;letter-spacing:0.300px;transform:scaleX(1.13);'>:</div>
<div class='t ser' style='left:58.3px;top:216.79px;letter-spacing:-0.404px;transform:scaleX(1.13);'>Kelas</div>
<div class='t ser' style='left:102.3px;top:216.79px;letter-spacing:0.300px;transform:scaleX(1.13);'>:</div>
<div class='t ser' style='left:210.0px;top:216.79px;letter-spacing:-0.370px;transform:scaleX(1.13);'>No.Absen :</div>
<div class='t ser' style='left:377.3px;top:203.09px;letter-spacing:-0.159px;transform:scaleX(1.13);'>Hari/Tanggal</div>
<div class='t ser' style='left:475.0px;top:203.09px;letter-spacing:0.300px;transform:scaleX(1.13);'>:</div>
<div class='t ser' style='left:377.3px;top:219.49px;letter-spacing:-0.122px;transform:scaleX(1.13);'>Mata Pelajaran</div>
<div class='t ser' style='left:475.0px;top:219.49px;letter-spacing:0.300px;transform:scaleX(1.13);'>:</div>
<div class='t ser' style='left:485.0px;top:221.09px;letter-spacing:-0.418px;transform:scaleX(1.13);'>IPAS</div>
<div class='t ser' style='left:56.7px;top:243.49px;letter-spacing:0.298px;transform:scaleX(1.13);'>Petunjuk mengerjakan soal</div>
<div class='t ser' style='left:56.7px;top:257.99px;letter-spacing:0.282px;transform:scaleX(1.13);'>1. Pilih jawaban yang paling benar pada soal pilihan ganda.</div>
<div class='t ser' style='left:56.7px;top:272.09px;letter-spacing:0.304px;transform:scaleX(1.13);'>2. Beri tanda centang pada soal pilihan ganda kompleks.</div>
<div class='t ser' style='left:56.7px;top:286.19px;letter-spacing:0.287px;transform:scaleX(1.13);'>3. Pada soal isian dan essay, jawaban sesuai dengan perintah.</div>
<div class='t ser' style='left:56.7px;top:300.39px;letter-spacing:0.307px;transform:scaleX(1.13);'>4. Pada bagian menjodohkan, tariklah garis sesuai dengan jawabannya.</div>
<div class='t h2' style='left:133.0px;top:333.19px;letter-spacing:0.232px;transform:scaleX(1.04);'>Peredaran Darah Manusia</div>
<div class='t body' style='left:48.3px;top:358.24px;letter-spacing:0.950px;word-spacing:6.429px;transform:scaleX(1.07);'>Alat peredaran darah manusia terdiri atas</div>
<div class='t body' style='left:48.3px;top:372.84px;letter-spacing:0.950px;word-spacing:2.473px;transform:scaleX(1.07);'>jantung dan pembuluh darah. Fungsi jantung</div>
<div class='t body' style='left:48.3px;top:387.54px;letter-spacing:0.950px;word-spacing:3.627px;transform:scaleX(1.07);'>adalah untuk memompa darah dalam tubuh.</div>
<div class='t body' style='left:48.3px;top:402.13px;letter-spacing:0.950px;word-spacing:2.299px;transform:scaleX(1.07);'>Jantung memiliki empat ruang, yaitu serambi</div>
<div class='t body' style='left:48.3px;top:416.63px;letter-spacing:0.950px;word-spacing:6.057px;transform:scaleX(1.07);'>kiri, bilik kiri, serambi kanan, bilik kanan.</div>
<div class='t body' style='left:48.3px;top:431.04px;letter-spacing:0.950px;word-spacing:1.173px;transform:scaleX(1.07);'>Pembuluh darah dibedakan menjadi dua yaitu</div>
<div class='t body' style='left:48.3px;top:445.74px;letter-spacing:0.950px;word-spacing:4.260px;transform:scaleX(1.07);'>pembuluh darah nadi (arteri) dan pembuluh</div>
<div class='t body' style='left:48.3px;top:460.54px;letter-spacing:0.700px;transform:scaleX(1.07);'>darah balik (vena).</div>
<div class='t body' style='left:48.3px;top:475.74px;letter-spacing:0.950px;word-spacing:10.312px;transform:scaleX(1.07);'>Peredaran darah ada dua macam yaitu</div>
<div class='t body' style='left:48.3px;top:490.74px;letter-spacing:0.605px;transform:scaleX(1.07);'>peredaran darah kecil</div>
<div class='t body' style='left:48.3px;top:549.53px;letter-spacing:0.469px;transform:scaleX(1.07);'>Peredaran darah besar.</div>
<div class='t chv' style='left:89.5px;top:522.03px;letter-spacing:0.114px;transform:scaleX(1.05);'>Jantung</div>
<div class='t chv' style='left:301.3px;top:522.53px;letter-spacing:0.146px;transform:scaleX(1.05);'>Jantung</div>
<div class='t chv' style='left:202.2px;top:515.03px;letter-spacing:0.170px;transform:scaleX(1.05);'>Paru-</div>
<div class='t chv' style='left:205.3px;top:531.03px;letter-spacing:0.275px;transform:scaleX(1.05);'>paru</div>
<div class='t chv' style='left:93.8px;top:577.53px;letter-spacing:0.099px;transform:scaleX(1.05);'>Jantung</div>
<div class='t chv' style='left:302.5px;top:577.53px;letter-spacing:0.114px;transform:scaleX(1.05);'>Jantung</div>
<div class='t chs' style='left:188.1px;top:571.28px;letter-spacing:0.357px;'>Seluruh tubuh</div>
<div class='t chs' style='left:188.1px;top:582.98px;letter-spacing:0.527px;'>(kecuali paru-</div>
<div class='t chs' style='left:208.7px;top:594.78px;letter-spacing:0.863px;'>paru)</div>
<div class='t q' style='left:399.5px;top:352.04px;letter-spacing:0.000px;transform:scaleX(1.07);'>1</div>
<div class='t q' style='left:417.3px;top:352.04px;letter-spacing:0.380px;transform:scaleX(1.07);'>Bagian jantung yang menerima darah kaya</div>
<div class='t q' style='left:417.3px;top:368.24px;letter-spacing:0.416px;transform:scaleX(1.07);'>karbondioksida darah dari seluruh tubuh yaitu...</div>
<div class='t q' style='left:417.3px;top:383.74px;letter-spacing:0.205px;transform:scaleX(1.07);'>(1 poin)</div>
<div class='t opt' style='left:417.3px;top:400.17px;letter-spacing:0.284px;transform:scaleX(1.07);'>a. serambi kanan</div>
<div class='t opt' style='left:605.8px;top:400.17px;letter-spacing:0.354px;transform:scaleX(1.07);'>c. bilik kanan</div>
<div class='t opt' style='left:417.3px;top:420.17px;letter-spacing:0.320px;transform:scaleX(1.07);'>b. serambi kiri</div>
<div class='t opt' style='left:607.5px;top:420.17px;letter-spacing:0.473px;transform:scaleX(1.07);'>d.  bilik kiri</div>
<div class='t q' style='left:399.0px;top:457.74px;letter-spacing:0.000px;transform:scaleX(1.07);'>2</div>
<div class='t q' style='left:412.8px;top:457.54px;letter-spacing:0.324px;transform:scaleX(1.07);'>Bagian jantung yang memompa darah kaya oksigen</div>
<div class='t q' style='left:412.8px;top:473.24px;letter-spacing:0.347px;transform:scaleX(1.07);'>ke seluruh tubuh yaitu... (1 poin)</div>
<div class='t opt' style='left:413.5px;top:495.17px;letter-spacing:0.284px;transform:scaleX(1.07);'>a. serambi kanan</div>
<div class='t opt' style='left:602.0px;top:495.17px;letter-spacing:0.318px;transform:scaleX(1.07);'>c. bilik kanan</div>
<div class='t opt' style='left:413.5px;top:515.87px;letter-spacing:0.293px;transform:scaleX(1.07);'>b. serambi kiri</div>
<div class='t opt' style='left:603.8px;top:515.87px;letter-spacing:0.437px;transform:scaleX(1.07);'>d.  bilik kiri</div>
<div class='t q' style='left:399.8px;top:547.74px;letter-spacing:0.000px;transform:scaleX(1.07);'>3</div>
<div class='t q' style='left:414.5px;top:546.53px;letter-spacing:0.401px;transform:scaleX(1.07);'>Berikut ini yang termasuk alat peredaran darah</div>
<div class='t q' style='left:414.5px;top:562.74px;letter-spacing:0.251px;transform:scaleX(1.07);'>manusia, kecuali... (1 poin)</div>
<div class='t opt' style='left:417.3px;top:580.17px;letter-spacing:0.457px;transform:scaleX(1.07);'>a. jantung</div>
<div class='t opt' style='left:564.5px;top:580.17px;letter-spacing:0.342px;transform:scaleX(1.07);'>c. arteri</div>
<div class='t opt' style='left:417.3px;top:600.87px;letter-spacing:0.239px;transform:scaleX(1.07);'>b. vena</div>
<div class='t opt' style='left:564.5px;top:600.87px;letter-spacing:0.438px;transform:scaleX(1.07);'>d. pembuluh nida</div>
<div class='t q' style='left:399.0px;top:627.74px;letter-spacing:0.000px;transform:scaleX(1.07);'>4.</div>
<div class='t q' style='left:416.5px;top:627.74px;letter-spacing:0.365px;transform:scaleX(1.07);'>Pembuluh darah yang darahnya tidak mengandung</div>
<div class='t q' style='left:416.5px;top:643.24px;letter-spacing:0.239px;transform:scaleX(1.07);'>mengandung oksigen adalah... (1 poin)</div>
<div class='t opt' style='left:419.5px;top:660.67px;letter-spacing:0.410px;transform:scaleX(1.07);'>a. arteri pulmonalis</div>
<div class='t opt' style='left:572.0px;top:660.67px;letter-spacing:0.342px;transform:scaleX(1.07);'>c. arteri</div>
<div class='t opt' style='left:419.5px;top:681.87px;letter-spacing:0.384px;transform:scaleX(1.07);'>b. aorta</div>
<div class='t opt' style='left:570.0px;top:681.87px;letter-spacing:0.389px;transform:scaleX(1.07);'>d. vena pulmonalis</div>
<div class='t q' style='left:397.8px;top:713.24px;letter-spacing:0.000px;transform:scaleX(1.07);'>5.</div>
<div class='t q' style='left:419.5px;top:713.24px;letter-spacing:0.379px;transform:scaleX(1.07);'>Pembuluh darah yang darahnya banyak</div>
<div class='t q' style='left:419.5px;top:729.53px;letter-spacing:0.239px;transform:scaleX(1.07);'>mengandung oksigen adalah... (1 poin)</div>
<div class='t opt' style='left:424.5px;top:750.17px;letter-spacing:0.130px;transform:scaleX(1.07);'>a. vena</div>
<div class='t opt' style='left:582.5px;top:750.17px;letter-spacing:0.284px;transform:scaleX(1.07);'>c. arteri</div>
<div class='t opt' style='left:424.5px;top:770.17px;letter-spacing:0.360px;transform:scaleX(1.07);'>b. venula</div>
<div class='t opt' style='left:580.5px;top:770.17px;letter-spacing:0.435px;transform:scaleX(1.07);'>d. arteri pulmonalis</div>
<div class='t q' style='left:402.8px;top:809.03px;letter-spacing:0.000px;transform:scaleX(1.07);'>6.</div>
<div class='t q' style='left:419.5px;top:808.24px;letter-spacing:0.337px;transform:scaleX(1.07);'>Urutan peredaran darah besar yang tepat adalah...</div>
<div class='t q' style='left:419.5px;top:825.24px;letter-spacing:0.152px;transform:scaleX(1.07);'>(1 poin)</div>
<div class='t opt' style='left:423.3px;top:850.17px;letter-spacing:0.472px;transform:scaleX(1.07);'>a. Bilik kiri- aorta- arteri- kapiler- vena- serambi</div>
<div class='t opt' style='left:437.8px;top:865.17px;letter-spacing:0.546px;transform:scaleX(1.07);'>kanan</div>
<div class='t opt' style='left:421.5px;top:880.17px;letter-spacing:0.438px;transform:scaleX(1.07);'>b. serambi kiri- aorta- arteri- kapiler- vena- serambi</div>
<div class='t opt' style='left:437.8px;top:895.87px;letter-spacing:0.546px;transform:scaleX(1.07);'>kanan</div>
<div class='t opt' style='left:424.5px;top:913.87px;letter-spacing:0.471px;transform:scaleX(1.07);'>c. bilik kanan- arteri pulmonalis- paru-paru- vena</div>
<div class='t opt' style='left:436.3px;top:933.87px;letter-spacing:0.495px;transform:scaleX(1.07);'>pulmonalis-serambi kiri</div>
<div class='t opt' style='left:424.0px;top:953.87px;letter-spacing:0.488px;transform:scaleX(1.07);'>d. serambi kanan- arteri pulmonalis- paru-paru-</div>
<div class='t opt' style='left:439.0px;top:973.17px;letter-spacing:0.459px;transform:scaleX(1.07);'>vena pulmonalis-serambi kiri</div>
</body></html>
